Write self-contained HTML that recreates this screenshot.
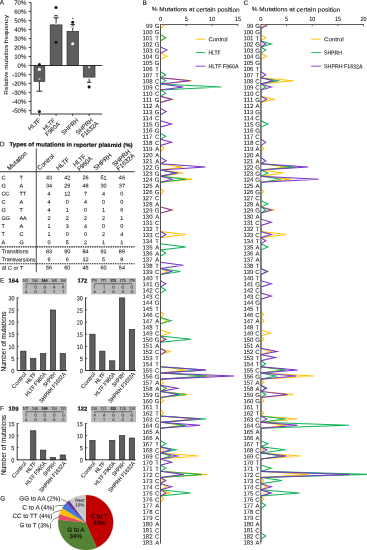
<!DOCTYPE html>
<html lang="en"><head><meta charset="utf-8"><title>Mutation spectra figure</title>
<style>html,body{margin:0;padding:0;background:#fff;}body{width:367px;height:550px;overflow:hidden;}svg{display:block;font-family:"Liberation Sans",sans-serif;}text{fill:#222;stroke:#222;stroke-width:0.09px;}.rl text{fill:#111;stroke:#111;stroke-width:0.04px;}</style>
</head><body>
<svg width="367" height="550" viewBox="0 0 367 550">
<rect width="367" height="550" fill="#fff"/>
<g id="panelA">
<text x="-0.20" y="4.60" font-size="6.4" text-anchor="start" style="fill:#111;stroke:#111;" transform="rotate(0.4 -0.20 4.60)">A</text>
<circle cx="39.40" cy="64.60" r="1.5" fill="#111"/>
<rect x="34.00" y="65.50" width="10.80" height="15.83" fill="#5e5e5e" stroke="#2e2e2e" stroke-width="0.7"/>
<rect x="50.20" y="24.85" width="11.80" height="40.65" fill="#5e5e5e" stroke="#2e2e2e" stroke-width="0.7"/>
<rect x="67.00" y="31.33" width="11.50" height="34.17" fill="#5e5e5e" stroke="#2e2e2e" stroke-width="0.7"/>
<rect x="83.30" y="65.50" width="11.70" height="11.60" fill="#5e5e5e" stroke="#2e2e2e" stroke-width="0.7"/>
<line x1="39.40" y1="81.60" x2="39.40" y2="91.20" stroke="#111" stroke-width="0.9"/>
<line x1="36.40" y1="91.20" x2="42.40" y2="91.20" stroke="#111" stroke-width="0.9"/>
<line x1="56.10" y1="24.22" x2="56.10" y2="17.80" stroke="#111" stroke-width="0.9"/>
<line x1="53.50" y1="17.80" x2="58.70" y2="17.80" stroke="#111" stroke-width="0.9"/>
<line x1="72.70" y1="30.79" x2="72.70" y2="24.60" stroke="#111" stroke-width="0.9"/>
<line x1="70.50" y1="24.60" x2="74.90" y2="24.60" stroke="#111" stroke-width="0.9"/>
<line x1="89.10" y1="77.37" x2="89.10" y2="82.30" stroke="#111" stroke-width="0.9"/>
<line x1="86.90" y1="82.30" x2="91.30" y2="82.30" stroke="#111" stroke-width="0.9"/>
<line x1="31.00" y1="2.30" x2="31.00" y2="114.20" stroke="#222" stroke-width="0.9"/>
<line x1="31.00" y1="65.50" x2="102.30" y2="65.50" stroke="#222" stroke-width="0.9"/>
<line x1="30.60" y1="114.00" x2="102.30" y2="114.00" stroke="#222" stroke-width="0.9"/>
<line x1="28.60" y1="110.47" x2="31.00" y2="110.47" stroke="#222" stroke-width="0.8"/>
<text x="26.40" y="112.81" font-size="6.1" text-anchor="end" transform="rotate(0.4 26.40 112.81)">-50%</text>
<line x1="28.60" y1="101.47" x2="31.00" y2="101.47" stroke="#222" stroke-width="0.8"/>
<text x="26.40" y="103.82" font-size="6.1" text-anchor="end" transform="rotate(0.4 26.40 103.82)">-40%</text>
<line x1="28.60" y1="92.48" x2="31.00" y2="92.48" stroke="#222" stroke-width="0.8"/>
<text x="26.40" y="94.83" font-size="6.1" text-anchor="end" transform="rotate(0.4 26.40 94.83)">-30%</text>
<line x1="28.60" y1="83.49" x2="31.00" y2="83.49" stroke="#222" stroke-width="0.8"/>
<text x="26.40" y="85.84" font-size="6.1" text-anchor="end" transform="rotate(0.4 26.40 85.84)">-20%</text>
<line x1="28.60" y1="74.49" x2="31.00" y2="74.49" stroke="#222" stroke-width="0.8"/>
<text x="26.40" y="76.84" font-size="6.1" text-anchor="end" transform="rotate(0.4 26.40 76.84)">-10%</text>
<line x1="28.60" y1="65.50" x2="31.00" y2="65.50" stroke="#222" stroke-width="0.8"/>
<text x="26.40" y="67.85" font-size="6.1" text-anchor="end" transform="rotate(0.4 26.40 67.85)">0%</text>
<line x1="28.60" y1="56.51" x2="31.00" y2="56.51" stroke="#222" stroke-width="0.8"/>
<text x="26.40" y="58.86" font-size="6.1" text-anchor="end" transform="rotate(0.4 26.40 58.86)">10%</text>
<line x1="28.60" y1="47.51" x2="31.00" y2="47.51" stroke="#222" stroke-width="0.8"/>
<text x="26.40" y="49.86" font-size="6.1" text-anchor="end" transform="rotate(0.4 26.40 49.86)">20%</text>
<line x1="28.60" y1="38.52" x2="31.00" y2="38.52" stroke="#222" stroke-width="0.8"/>
<text x="26.40" y="40.87" font-size="6.1" text-anchor="end" transform="rotate(0.4 26.40 40.87)">30%</text>
<line x1="28.60" y1="29.53" x2="31.00" y2="29.53" stroke="#222" stroke-width="0.8"/>
<text x="26.40" y="31.88" font-size="6.1" text-anchor="end" transform="rotate(0.4 26.40 31.88)">40%</text>
<line x1="28.60" y1="20.54" x2="31.00" y2="20.54" stroke="#222" stroke-width="0.8"/>
<text x="26.40" y="22.89" font-size="6.1" text-anchor="end" transform="rotate(0.4 26.40 22.89)">50%</text>
<line x1="28.60" y1="11.54" x2="31.00" y2="11.54" stroke="#222" stroke-width="0.8"/>
<text x="26.40" y="13.89" font-size="6.1" text-anchor="end" transform="rotate(0.4 26.40 13.89)">60%</text>
<line x1="28.60" y1="2.55" x2="31.00" y2="2.55" stroke="#222" stroke-width="0.8"/>
<text x="26.40" y="4.90" font-size="6.1" text-anchor="end" transform="rotate(0.4 26.40 4.90)">70%</text>
<line x1="39.40" y1="114.00" x2="39.40" y2="116.00" stroke="#222" stroke-width="0.8"/>
<line x1="56.10" y1="114.00" x2="56.10" y2="116.00" stroke="#222" stroke-width="0.8"/>
<line x1="72.70" y1="114.00" x2="72.70" y2="116.00" stroke="#222" stroke-width="0.8"/>
<line x1="89.10" y1="114.00" x2="89.10" y2="116.00" stroke="#222" stroke-width="0.8"/>
<circle cx="39.40" cy="69.40" r="1.55" fill="#fff"/>
<circle cx="39.40" cy="79.00" r="1.1" fill="#b9b9b9"/>
<circle cx="39.40" cy="111.60" r="1.55" fill="#111"/>
<circle cx="56.00" cy="7.50" r="1.55" fill="#111"/>
<circle cx="56.10" cy="23.80" r="1.1" fill="#cfcfcf"/>
<circle cx="60.20" cy="24.60" r="0.9" fill="#9a9a9a"/>
<circle cx="56.00" cy="42.20" r="1.55" fill="#111"/>
<circle cx="72.70" cy="22.30" r="1.5" fill="#111"/>
<circle cx="72.70" cy="27.00" r="1.15" fill="#fff" stroke="#555" stroke-width="0.4"/>
<circle cx="72.70" cy="43.80" r="1.5" fill="#fff"/>
<circle cx="89.10" cy="67.30" r="1.1" fill="#e6e6e6"/>
<circle cx="89.10" cy="78.20" r="1.0" fill="#d8d8d8"/>
<circle cx="89.10" cy="86.90" r="1.55" fill="#111"/>
<text x="56.00" y="17.90" font-size="4.8" text-anchor="middle" transform="rotate(0.4 56.00 17.90)">**</text>
<text x="72.70" y="20.60" font-size="4.2" text-anchor="middle" transform="rotate(0.4 72.70 20.60)">*</text>
<text x="8.40" y="54.90" font-size="6.2" text-anchor="middle" transform="rotate(-90 8.40 54.90)" textLength="79.5" lengthAdjust="spacingAndGlyphs">Relative mutation frequency</text>
<text x="41.00" y="120.90" font-size="6.0" text-anchor="end" transform="rotate(-43 41.00 120.90)">HLTF</text>
<text x="55.60" y="121.10" font-size="6.0" text-anchor="end" transform="rotate(-43 55.60 121.10)">HLTF</text>
<text x="60.40" y="124.50" font-size="6.0" text-anchor="end" transform="rotate(-43 60.40 124.50)">F960A</text>
<text x="79.00" y="120.90" font-size="6.0" text-anchor="end" transform="rotate(-43 79.00 120.90)">SHPRH</text>
<text x="93.40" y="120.70" font-size="6.0" text-anchor="end" transform="rotate(-43 93.40 120.70)">SHPRH</text>
<text x="98.80" y="123.90" font-size="6.0" text-anchor="end" transform="rotate(-43 98.80 123.90)">F1632A</text>
</g>
<g id="panelD">
<text x="-0.20" y="146.20" font-size="6.6" text-anchor="start" style="fill:#111;stroke:#111;" transform="rotate(0.4 -0.20 146.20)">D</text>
<text x="9.60" y="146.20" font-size="5.9" text-anchor="start" font-weight="bold" style="stroke-width:0.2px;fill:#111;stroke:#111;" transform="rotate(0.4 9.60 146.20)" textLength="123" lengthAdjust="spacingAndGlyphs">Types of mutations in reporter plasmid (%)</text>
<line x1="0.00" y1="171.70" x2="134.50" y2="171.70" stroke="#222" stroke-width="0.9"/>
<line x1="36.30" y1="148.50" x2="36.30" y2="272.20" stroke="#222" stroke-width="0.8"/>
<text x="9.60" y="170.40" font-size="6.3" text-anchor="start" transform="rotate(-42 9.60 170.40)">Mutation</text>
<text x="39.60" y="170.40" font-size="6.3" text-anchor="start" transform="rotate(-42 39.60 170.40)">Control</text>
<text x="58.40" y="170.40" font-size="6.3" text-anchor="start" transform="rotate(-42 58.40 170.40)">HLTF</text>
<text x="75.20" y="167.00" font-size="6.2" text-anchor="start" transform="rotate(-42 75.20 167.00)">HLTF</text>
<text x="79.40" y="171.30" font-size="6.2" text-anchor="start" transform="rotate(-42 79.40 171.30)">F960A</text>
<text x="95.80" y="170.60" font-size="6.3" text-anchor="start" transform="rotate(-42 95.80 170.60)">SHPRH</text>
<text x="114.40" y="167.00" font-size="6.3" text-anchor="start" transform="rotate(-42 114.40 167.00)">SHPRH</text>
<text x="118.80" y="171.00" font-size="6.3" text-anchor="start" transform="rotate(-42 118.80 171.00)">F1632A</text>
<text x="1.40" y="179.40" font-size="5.5" text-anchor="start" transform="rotate(0.4 1.40 179.40)">C</text>
<text x="19.40" y="179.40" font-size="5.5" text-anchor="start" transform="rotate(0.4 19.40 179.40)">T</text>
<text x="49.10" y="179.40" font-size="5.5" text-anchor="middle" transform="rotate(0.4 49.10 179.40)">43</text>
<text x="67.30" y="179.40" font-size="5.5" text-anchor="middle" transform="rotate(0.4 67.30 179.40)">42</text>
<text x="85.60" y="179.40" font-size="5.5" text-anchor="middle" transform="rotate(0.4 85.60 179.40)">26</text>
<text x="103.50" y="179.40" font-size="5.5" text-anchor="middle" transform="rotate(0.4 103.50 179.40)">51</text>
<text x="121.90" y="179.40" font-size="5.5" text-anchor="middle" transform="rotate(0.4 121.90 179.40)">46</text>
<text x="1.40" y="187.50" font-size="5.5" text-anchor="start" transform="rotate(0.4 1.40 187.50)">G</text>
<text x="19.40" y="187.50" font-size="5.5" text-anchor="start" transform="rotate(0.4 19.40 187.50)">A</text>
<text x="49.10" y="187.50" font-size="5.5" text-anchor="middle" transform="rotate(0.4 49.10 187.50)">34</text>
<text x="67.30" y="187.50" font-size="5.5" text-anchor="middle" transform="rotate(0.4 67.30 187.50)">29</text>
<text x="85.60" y="187.50" font-size="5.5" text-anchor="middle" transform="rotate(0.4 85.60 187.50)">48</text>
<text x="103.50" y="187.50" font-size="5.5" text-anchor="middle" transform="rotate(0.4 103.50 187.50)">30</text>
<text x="121.90" y="187.50" font-size="5.5" text-anchor="middle" transform="rotate(0.4 121.90 187.50)">37</text>
<text x="1.40" y="195.60" font-size="5.5" text-anchor="start" transform="rotate(0.4 1.40 195.60)">CC</text>
<text x="19.40" y="195.60" font-size="5.5" text-anchor="start" transform="rotate(0.4 19.40 195.60)">TT</text>
<text x="49.10" y="195.60" font-size="5.5" text-anchor="middle" transform="rotate(0.4 49.10 195.60)">4</text>
<text x="67.30" y="195.60" font-size="5.5" text-anchor="middle" transform="rotate(0.4 67.30 195.60)">12</text>
<text x="85.60" y="195.60" font-size="5.5" text-anchor="middle" transform="rotate(0.4 85.60 195.60)">7</text>
<text x="103.50" y="195.60" font-size="5.5" text-anchor="middle" transform="rotate(0.4 103.50 195.60)">4</text>
<text x="121.90" y="195.60" font-size="5.5" text-anchor="middle" transform="rotate(0.4 121.90 195.60)">0</text>
<text x="1.40" y="203.70" font-size="5.5" text-anchor="start" transform="rotate(0.4 1.40 203.70)">C</text>
<text x="19.40" y="203.70" font-size="5.5" text-anchor="start" transform="rotate(0.4 19.40 203.70)">A</text>
<text x="49.10" y="203.70" font-size="5.5" text-anchor="middle" transform="rotate(0.4 49.10 203.70)">4</text>
<text x="67.30" y="203.70" font-size="5.5" text-anchor="middle" transform="rotate(0.4 67.30 203.70)">0</text>
<text x="85.60" y="203.70" font-size="5.5" text-anchor="middle" transform="rotate(0.4 85.60 203.70)">4</text>
<text x="103.50" y="203.70" font-size="5.5" text-anchor="middle" transform="rotate(0.4 103.50 203.70)">0</text>
<text x="121.90" y="203.70" font-size="5.5" text-anchor="middle" transform="rotate(0.4 121.90 203.70)">0</text>
<text x="1.40" y="211.80" font-size="5.5" text-anchor="start" transform="rotate(0.4 1.40 211.80)">G</text>
<text x="19.40" y="211.80" font-size="5.5" text-anchor="start" transform="rotate(0.4 19.40 211.80)">T</text>
<text x="49.10" y="211.80" font-size="5.5" text-anchor="middle" transform="rotate(0.4 49.10 211.80)">4</text>
<text x="67.30" y="211.80" font-size="5.5" text-anchor="middle" transform="rotate(0.4 67.30 211.80)">1</text>
<text x="85.60" y="211.80" font-size="5.5" text-anchor="middle" transform="rotate(0.4 85.60 211.80)">0</text>
<text x="103.50" y="211.80" font-size="5.5" text-anchor="middle" transform="rotate(0.4 103.50 211.80)">1</text>
<text x="121.90" y="211.80" font-size="5.5" text-anchor="middle" transform="rotate(0.4 121.90 211.80)">6</text>
<text x="1.40" y="219.90" font-size="5.5" text-anchor="start" transform="rotate(0.4 1.40 219.90)">GG</text>
<text x="19.40" y="219.90" font-size="5.5" text-anchor="start" transform="rotate(0.4 19.40 219.90)">AA</text>
<text x="49.10" y="219.90" font-size="5.5" text-anchor="middle" transform="rotate(0.4 49.10 219.90)">2</text>
<text x="67.30" y="219.90" font-size="5.5" text-anchor="middle" transform="rotate(0.4 67.30 219.90)">2</text>
<text x="85.60" y="219.90" font-size="5.5" text-anchor="middle" transform="rotate(0.4 85.60 219.90)">2</text>
<text x="103.50" y="219.90" font-size="5.5" text-anchor="middle" transform="rotate(0.4 103.50 219.90)">2</text>
<text x="121.90" y="219.90" font-size="5.5" text-anchor="middle" transform="rotate(0.4 121.90 219.90)">1</text>
<text x="1.40" y="228.00" font-size="5.5" text-anchor="start" transform="rotate(0.4 1.40 228.00)">T</text>
<text x="19.40" y="228.00" font-size="5.5" text-anchor="start" transform="rotate(0.4 19.40 228.00)">A</text>
<text x="49.10" y="228.00" font-size="5.5" text-anchor="middle" transform="rotate(0.4 49.10 228.00)">1</text>
<text x="67.30" y="228.00" font-size="5.5" text-anchor="middle" transform="rotate(0.4 67.30 228.00)">3</text>
<text x="85.60" y="228.00" font-size="5.5" text-anchor="middle" transform="rotate(0.4 85.60 228.00)">4</text>
<text x="103.50" y="228.00" font-size="5.5" text-anchor="middle" transform="rotate(0.4 103.50 228.00)">0</text>
<text x="121.90" y="228.00" font-size="5.5" text-anchor="middle" transform="rotate(0.4 121.90 228.00)">0</text>
<text x="1.40" y="236.10" font-size="5.5" text-anchor="start" transform="rotate(0.4 1.40 236.10)">T</text>
<text x="19.40" y="236.10" font-size="5.5" text-anchor="start" transform="rotate(0.4 19.40 236.10)">C</text>
<text x="49.10" y="236.10" font-size="5.5" text-anchor="middle" transform="rotate(0.4 49.10 236.10)">1</text>
<text x="67.30" y="236.10" font-size="5.5" text-anchor="middle" transform="rotate(0.4 67.30 236.10)">0</text>
<text x="85.60" y="236.10" font-size="5.5" text-anchor="middle" transform="rotate(0.4 85.60 236.10)">0</text>
<text x="103.50" y="236.10" font-size="5.5" text-anchor="middle" transform="rotate(0.4 103.50 236.10)">2</text>
<text x="121.90" y="236.10" font-size="5.5" text-anchor="middle" transform="rotate(0.4 121.90 236.10)">4</text>
<text x="1.40" y="244.20" font-size="5.5" text-anchor="start" transform="rotate(0.4 1.40 244.20)">A</text>
<text x="19.40" y="244.20" font-size="5.5" text-anchor="start" transform="rotate(0.4 19.40 244.20)">G</text>
<text x="49.10" y="244.20" font-size="5.5" text-anchor="middle" transform="rotate(0.4 49.10 244.20)">0</text>
<text x="67.30" y="244.20" font-size="5.5" text-anchor="middle" transform="rotate(0.4 67.30 244.20)">5</text>
<text x="85.60" y="244.20" font-size="5.5" text-anchor="middle" transform="rotate(0.4 85.60 244.20)">2</text>
<text x="103.50" y="244.20" font-size="5.5" text-anchor="middle" transform="rotate(0.4 103.50 244.20)">1</text>
<text x="121.90" y="244.20" font-size="5.5" text-anchor="middle" transform="rotate(0.4 121.90 244.20)">1</text>
<line x1="0.00" y1="246.90" x2="134.50" y2="246.90" stroke="#222" stroke-width="1.1" stroke-dasharray="1.5 0.8"/>
<line x1="0.00" y1="263.80" x2="134.50" y2="263.80" stroke="#222" stroke-width="1.1" stroke-dasharray="1.5 0.8"/>
<text x="1.80" y="253.20" font-size="5.5" text-anchor="start" transform="rotate(0.4 1.80 253.20)">Transitions</text>
<text x="49.10" y="253.20" font-size="5.5" text-anchor="middle" transform="rotate(0.4 49.10 253.20)">83</text>
<text x="67.30" y="253.20" font-size="5.5" text-anchor="middle" transform="rotate(0.4 67.30 253.20)">90</text>
<text x="85.60" y="253.20" font-size="5.5" text-anchor="middle" transform="rotate(0.4 85.60 253.20)">84</text>
<text x="103.50" y="253.20" font-size="5.5" text-anchor="middle" transform="rotate(0.4 103.50 253.20)">91</text>
<text x="121.90" y="253.20" font-size="5.5" text-anchor="middle" transform="rotate(0.4 121.90 253.20)">89</text>
<text x="1.80" y="261.30" font-size="5.5" text-anchor="start" transform="rotate(0.4 1.80 261.30)" textLength="33.6" lengthAdjust="spacingAndGlyphs">Transversions</text>
<text x="49.10" y="261.30" font-size="5.5" text-anchor="middle" transform="rotate(0.4 49.10 261.30)">9</text>
<text x="67.30" y="261.30" font-size="5.5" text-anchor="middle" transform="rotate(0.4 67.30 261.30)">6</text>
<text x="85.60" y="261.30" font-size="5.5" text-anchor="middle" transform="rotate(0.4 85.60 261.30)">12</text>
<text x="103.50" y="261.30" font-size="5.5" text-anchor="middle" transform="rotate(0.4 103.50 261.30)">5</text>
<text x="121.90" y="261.30" font-size="5.5" text-anchor="middle" transform="rotate(0.4 121.90 261.30)">8</text>
<text x="1.80" y="269.60" font-size="5.5" text-anchor="start" transform="rotate(0.4 1.80 269.60)">at C or T</text>
<text x="49.10" y="269.60" font-size="5.5" text-anchor="middle" transform="rotate(0.4 49.10 269.60)">56</text>
<text x="67.30" y="269.60" font-size="5.5" text-anchor="middle" transform="rotate(0.4 67.30 269.60)">60</text>
<text x="85.60" y="269.60" font-size="5.5" text-anchor="middle" transform="rotate(0.4 85.60 269.60)">45</text>
<text x="103.50" y="269.60" font-size="5.5" text-anchor="middle" transform="rotate(0.4 103.50 269.60)">60</text>
<text x="121.90" y="269.60" font-size="5.5" text-anchor="middle" transform="rotate(0.4 121.90 269.60)">54</text>
</g>
<g id="panelEF">
<text x="-0.10" y="282.60" font-size="6.5" text-anchor="start" style="fill:#111;stroke:#111;" transform="rotate(0.4 -0.10 282.60)">E</text>
<text x="8.60" y="282.60" font-size="5.9" text-anchor="start" font-weight="bold" style="stroke-width:0.2px;fill:#111;stroke:#111;" transform="rotate(0.4 8.60 282.60)">164</text>
<rect x="22.50" y="278.00" width="44.30" height="16.30" fill="#bababa"/>
<text x="25.40" y="281.80" font-size="3.5" text-anchor="middle" transform="rotate(0.4 25.40 281.80)">162</text>
<text x="34.90" y="281.80" font-size="3.5" text-anchor="middle" transform="rotate(0.4 34.90 281.80)">163</text>
<text x="44.50" y="281.80" font-size="3.5" text-anchor="middle" font-weight="bold" style="stroke-width:0.2px;" transform="rotate(0.4 44.50 281.80)">164</text>
<text x="54.10" y="281.80" font-size="3.5" text-anchor="middle" transform="rotate(0.4 54.10 281.80)">165</text>
<text x="63.30" y="281.80" font-size="3.5" text-anchor="middle" transform="rotate(0.4 63.30 281.80)">166</text>
<line x1="26.10" y1="283.70" x2="63.30" y2="283.70" stroke="#333" stroke-width="0.6"/>
<line x1="26.10" y1="283.70" x2="26.10" y2="285.00" stroke="#333" stroke-width="0.5"/>
<text x="26.10" y="288.20" font-size="3.6" text-anchor="middle" transform="rotate(0.4 26.10 288.20)">T</text>
<line x1="26.10" y1="288.50" x2="26.10" y2="289.20" stroke="#333" stroke-width="0.4"/>
<text x="26.10" y="293.10" font-size="3.6" text-anchor="middle" transform="rotate(0.4 26.10 293.10)">A</text>
<line x1="35.60" y1="283.70" x2="35.60" y2="285.00" stroke="#333" stroke-width="0.5"/>
<text x="35.60" y="288.20" font-size="3.6" text-anchor="middle" transform="rotate(0.4 35.60 288.20)">C</text>
<line x1="35.60" y1="288.50" x2="35.60" y2="289.20" stroke="#333" stroke-width="0.4"/>
<text x="35.60" y="293.10" font-size="3.6" text-anchor="middle" transform="rotate(0.4 35.60 293.10)">G</text>
<line x1="44.90" y1="283.70" x2="44.90" y2="285.00" stroke="#333" stroke-width="0.5"/>
<text x="44.90" y="288.20" font-size="3.6" text-anchor="middle" transform="rotate(0.4 44.90 288.20)">G</text>
<line x1="44.90" y1="288.50" x2="44.90" y2="289.20" stroke="#333" stroke-width="0.4"/>
<text x="44.90" y="293.10" font-size="3.6" text-anchor="middle" transform="rotate(0.4 44.90 293.10)">C</text>
<line x1="54.20" y1="283.70" x2="54.20" y2="285.00" stroke="#333" stroke-width="0.5"/>
<text x="54.20" y="288.20" font-size="3.6" text-anchor="middle" transform="rotate(0.4 54.20 288.20)">A</text>
<line x1="54.20" y1="288.50" x2="54.20" y2="289.20" stroke="#333" stroke-width="0.4"/>
<text x="54.20" y="293.10" font-size="3.6" text-anchor="middle" transform="rotate(0.4 54.20 293.10)">T</text>
<line x1="63.30" y1="283.70" x2="63.30" y2="285.00" stroke="#333" stroke-width="0.5"/>
<text x="63.30" y="288.20" font-size="3.6" text-anchor="middle" transform="rotate(0.4 63.30 288.20)">A</text>
<line x1="63.30" y1="288.50" x2="63.30" y2="289.20" stroke="#333" stroke-width="0.4"/>
<text x="63.30" y="293.10" font-size="3.6" text-anchor="middle" transform="rotate(0.4 63.30 293.10)">T</text>
<rect x="20.70" y="351.14" width="5.30" height="19.36" fill="#5e5e5e" stroke="#2e2e2e" stroke-width="0.7"/>
<rect x="30.57" y="358.40" width="5.30" height="12.10" fill="#5e5e5e" stroke="#2e2e2e" stroke-width="0.7"/>
<rect x="40.44" y="353.56" width="5.30" height="16.94" fill="#5e5e5e" stroke="#2e2e2e" stroke-width="0.7"/>
<rect x="50.31" y="310.00" width="5.30" height="60.50" fill="#5e5e5e" stroke="#2e2e2e" stroke-width="0.7"/>
<rect x="60.18" y="353.56" width="5.30" height="16.94" fill="#5e5e5e" stroke="#2e2e2e" stroke-width="0.7"/>
<line x1="17.20" y1="297.50" x2="17.20" y2="370.90" stroke="#222" stroke-width="0.9"/>
<line x1="17.20" y1="370.50" x2="66.80" y2="370.50" stroke="#222" stroke-width="0.9"/>
<line x1="17.20" y1="370.50" x2="18.80" y2="370.50" stroke="#222" stroke-width="0.7"/>
<text x="14.40" y="373.20" font-size="6.3" text-anchor="end" transform="rotate(0.4 14.40 373.20)" textLength="3.1" lengthAdjust="spacingAndGlyphs">0</text>
<line x1="17.20" y1="358.40" x2="18.80" y2="358.40" stroke="#222" stroke-width="0.7"/>
<text x="14.40" y="361.10" font-size="6.3" text-anchor="end" transform="rotate(0.4 14.40 361.10)" textLength="3.1" lengthAdjust="spacingAndGlyphs">5</text>
<line x1="17.20" y1="346.30" x2="18.80" y2="346.30" stroke="#222" stroke-width="0.7"/>
<text x="14.40" y="349.00" font-size="6.3" text-anchor="end" transform="rotate(0.4 14.40 349.00)" textLength="6.0" lengthAdjust="spacingAndGlyphs">10</text>
<line x1="17.20" y1="334.20" x2="18.80" y2="334.20" stroke="#222" stroke-width="0.7"/>
<text x="14.40" y="336.90" font-size="6.3" text-anchor="end" transform="rotate(0.4 14.40 336.90)" textLength="6.0" lengthAdjust="spacingAndGlyphs">15</text>
<line x1="17.20" y1="322.10" x2="18.80" y2="322.10" stroke="#222" stroke-width="0.7"/>
<text x="14.40" y="324.80" font-size="6.3" text-anchor="end" transform="rotate(0.4 14.40 324.80)" textLength="6.0" lengthAdjust="spacingAndGlyphs">20</text>
<line x1="17.20" y1="310.00" x2="18.80" y2="310.00" stroke="#222" stroke-width="0.7"/>
<text x="14.40" y="312.70" font-size="6.3" text-anchor="end" transform="rotate(0.4 14.40 312.70)" textLength="6.0" lengthAdjust="spacingAndGlyphs">25</text>
<line x1="17.20" y1="297.90" x2="18.80" y2="297.90" stroke="#222" stroke-width="0.7"/>
<text x="14.40" y="300.60" font-size="6.3" text-anchor="end" transform="rotate(0.4 14.40 300.60)" textLength="6.0" lengthAdjust="spacingAndGlyphs">30</text>
<text x="26.65" y="374.30" font-size="5.6" text-anchor="end" transform="rotate(-50 26.65 374.30)" textLength="19.3" lengthAdjust="spacingAndGlyphs">Control</text>
<text x="36.52" y="374.30" font-size="5.6" text-anchor="end" transform="rotate(-50 36.52 374.30)" textLength="13.0" lengthAdjust="spacingAndGlyphs">HLTF</text>
<text x="46.39" y="374.30" font-size="5.6" text-anchor="end" transform="rotate(-50 46.39 374.30)" textLength="29.2" lengthAdjust="spacingAndGlyphs">HLTF F960A</text>
<text x="56.26" y="374.30" font-size="5.6" text-anchor="end" transform="rotate(-50 56.26 374.30)" textLength="16.8" lengthAdjust="spacingAndGlyphs">SHPRH</text>
<text x="66.13" y="374.30" font-size="5.6" text-anchor="end" transform="rotate(-50 66.13 374.30)" textLength="37.9" lengthAdjust="spacingAndGlyphs">SHPRH F1632A</text>
<text x="77.40" y="282.60" font-size="5.9" text-anchor="start" font-weight="bold" style="stroke-width:0.2px;fill:#111;stroke:#111;" transform="rotate(0.4 77.40 282.60)">172</text>
<rect x="91.10" y="278.00" width="44.90" height="16.30" fill="#bababa"/>
<text x="94.00" y="281.80" font-size="3.5" text-anchor="middle" transform="rotate(0.4 94.00 281.80)">170</text>
<text x="103.50" y="281.80" font-size="3.5" text-anchor="middle" transform="rotate(0.4 103.50 281.80)">171</text>
<text x="113.10" y="281.80" font-size="3.5" text-anchor="middle" font-weight="bold" style="stroke-width:0.2px;" transform="rotate(0.4 113.10 281.80)">172</text>
<text x="122.70" y="281.80" font-size="3.5" text-anchor="middle" transform="rotate(0.4 122.70 281.80)">173</text>
<text x="131.90" y="281.80" font-size="3.5" text-anchor="middle" transform="rotate(0.4 131.90 281.80)">174</text>
<line x1="94.70" y1="283.70" x2="131.90" y2="283.70" stroke="#333" stroke-width="0.6"/>
<line x1="94.70" y1="283.70" x2="94.70" y2="285.00" stroke="#333" stroke-width="0.5"/>
<text x="94.70" y="288.20" font-size="3.6" text-anchor="middle" transform="rotate(0.4 94.70 288.20)">T</text>
<line x1="94.70" y1="288.50" x2="94.70" y2="289.20" stroke="#333" stroke-width="0.4"/>
<text x="94.70" y="293.10" font-size="3.6" text-anchor="middle" transform="rotate(0.4 94.70 293.10)">A</text>
<line x1="104.20" y1="283.70" x2="104.20" y2="285.00" stroke="#333" stroke-width="0.5"/>
<text x="104.20" y="288.20" font-size="3.6" text-anchor="middle" transform="rotate(0.4 104.20 288.20)">T</text>
<line x1="104.20" y1="288.50" x2="104.20" y2="289.20" stroke="#333" stroke-width="0.4"/>
<text x="104.20" y="293.10" font-size="3.6" text-anchor="middle" transform="rotate(0.4 104.20 293.10)">A</text>
<line x1="113.50" y1="283.70" x2="113.50" y2="285.00" stroke="#333" stroke-width="0.5"/>
<text x="113.50" y="288.20" font-size="3.6" text-anchor="middle" transform="rotate(0.4 113.50 288.20)">C</text>
<line x1="113.50" y1="288.50" x2="113.50" y2="289.20" stroke="#333" stroke-width="0.4"/>
<text x="113.50" y="293.10" font-size="3.6" text-anchor="middle" transform="rotate(0.4 113.50 293.10)">G</text>
<line x1="122.80" y1="283.70" x2="122.80" y2="285.00" stroke="#333" stroke-width="0.5"/>
<text x="122.80" y="288.20" font-size="3.6" text-anchor="middle" transform="rotate(0.4 122.80 288.20)">C</text>
<line x1="122.80" y1="288.50" x2="122.80" y2="289.20" stroke="#333" stroke-width="0.4"/>
<text x="122.80" y="293.10" font-size="3.6" text-anchor="middle" transform="rotate(0.4 122.80 293.10)">G</text>
<line x1="131.90" y1="283.70" x2="131.90" y2="285.00" stroke="#333" stroke-width="0.5"/>
<text x="131.90" y="288.20" font-size="3.6" text-anchor="middle" transform="rotate(0.4 131.90 288.20)">C</text>
<line x1="131.90" y1="288.50" x2="131.90" y2="289.20" stroke="#333" stroke-width="0.4"/>
<text x="131.90" y="293.10" font-size="3.6" text-anchor="middle" transform="rotate(0.4 131.90 293.10)">G</text>
<rect x="89.80" y="334.20" width="5.30" height="36.30" fill="#5e5e5e" stroke="#2e2e2e" stroke-width="0.7"/>
<rect x="99.67" y="351.14" width="5.30" height="19.36" fill="#5e5e5e" stroke="#2e2e2e" stroke-width="0.7"/>
<rect x="109.54" y="360.82" width="5.30" height="9.68" fill="#5e5e5e" stroke="#2e2e2e" stroke-width="0.7"/>
<rect x="119.41" y="297.90" width="5.30" height="72.60" fill="#5e5e5e" stroke="#2e2e2e" stroke-width="0.7"/>
<rect x="129.28" y="329.36" width="5.30" height="41.14" fill="#5e5e5e" stroke="#2e2e2e" stroke-width="0.7"/>
<line x1="85.60" y1="297.50" x2="85.60" y2="370.90" stroke="#222" stroke-width="0.9"/>
<line x1="85.60" y1="370.50" x2="135.60" y2="370.50" stroke="#222" stroke-width="0.9"/>
<line x1="85.60" y1="370.50" x2="87.20" y2="370.50" stroke="#222" stroke-width="0.7"/>
<text x="82.80" y="373.20" font-size="6.3" text-anchor="end" transform="rotate(0.4 82.80 373.20)" textLength="3.1" lengthAdjust="spacingAndGlyphs">0</text>
<line x1="85.60" y1="358.40" x2="87.20" y2="358.40" stroke="#222" stroke-width="0.7"/>
<text x="82.80" y="361.10" font-size="6.3" text-anchor="end" transform="rotate(0.4 82.80 361.10)" textLength="3.1" lengthAdjust="spacingAndGlyphs">5</text>
<line x1="85.60" y1="346.30" x2="87.20" y2="346.30" stroke="#222" stroke-width="0.7"/>
<text x="82.80" y="349.00" font-size="6.3" text-anchor="end" transform="rotate(0.4 82.80 349.00)" textLength="6.0" lengthAdjust="spacingAndGlyphs">10</text>
<line x1="85.60" y1="334.20" x2="87.20" y2="334.20" stroke="#222" stroke-width="0.7"/>
<text x="82.80" y="336.90" font-size="6.3" text-anchor="end" transform="rotate(0.4 82.80 336.90)" textLength="6.0" lengthAdjust="spacingAndGlyphs">15</text>
<line x1="85.60" y1="322.10" x2="87.20" y2="322.10" stroke="#222" stroke-width="0.7"/>
<text x="82.80" y="324.80" font-size="6.3" text-anchor="end" transform="rotate(0.4 82.80 324.80)" textLength="6.0" lengthAdjust="spacingAndGlyphs">20</text>
<line x1="85.60" y1="310.00" x2="87.20" y2="310.00" stroke="#222" stroke-width="0.7"/>
<text x="82.80" y="312.70" font-size="6.3" text-anchor="end" transform="rotate(0.4 82.80 312.70)" textLength="6.0" lengthAdjust="spacingAndGlyphs">25</text>
<line x1="85.60" y1="297.90" x2="87.20" y2="297.90" stroke="#222" stroke-width="0.7"/>
<text x="82.80" y="300.60" font-size="6.3" text-anchor="end" transform="rotate(0.4 82.80 300.60)" textLength="6.0" lengthAdjust="spacingAndGlyphs">30</text>
<text x="95.75" y="374.30" font-size="5.6" text-anchor="end" transform="rotate(-50 95.75 374.30)" textLength="19.3" lengthAdjust="spacingAndGlyphs">Control</text>
<text x="105.62" y="374.30" font-size="5.6" text-anchor="end" transform="rotate(-50 105.62 374.30)" textLength="13.0" lengthAdjust="spacingAndGlyphs">HLTF</text>
<text x="115.49" y="374.30" font-size="5.6" text-anchor="end" transform="rotate(-50 115.49 374.30)" textLength="29.2" lengthAdjust="spacingAndGlyphs">HLTF F960A</text>
<text x="125.36" y="374.30" font-size="5.6" text-anchor="end" transform="rotate(-50 125.36 374.30)" textLength="16.8" lengthAdjust="spacingAndGlyphs">SHPRH</text>
<text x="135.23" y="374.30" font-size="5.6" text-anchor="end" transform="rotate(-50 135.23 374.30)" textLength="37.9" lengthAdjust="spacingAndGlyphs">SHPRH F1632A</text>
<text x="6.10" y="341.40" font-size="6.4" text-anchor="middle" transform="rotate(-90 6.10 341.40)" textLength="60.0" lengthAdjust="spacingAndGlyphs">Number of mutations</text>
<text x="-0.10" y="410.60" font-size="6.5" text-anchor="start" style="fill:#111;stroke:#111;" transform="rotate(0.4 -0.10 410.60)">F</text>
<text x="8.60" y="410.60" font-size="5.9" text-anchor="start" font-weight="bold" style="stroke-width:0.2px;fill:#111;stroke:#111;" transform="rotate(0.4 8.60 410.60)">109</text>
<rect x="22.50" y="406.00" width="44.30" height="16.30" fill="#bababa"/>
<text x="25.40" y="409.80" font-size="3.5" text-anchor="middle" transform="rotate(0.4 25.40 409.80)">107</text>
<text x="34.90" y="409.80" font-size="3.5" text-anchor="middle" transform="rotate(0.4 34.90 409.80)">108</text>
<text x="44.50" y="409.80" font-size="3.5" text-anchor="middle" font-weight="bold" style="stroke-width:0.2px;" transform="rotate(0.4 44.50 409.80)">109</text>
<text x="54.10" y="409.80" font-size="3.5" text-anchor="middle" transform="rotate(0.4 54.10 409.80)">110</text>
<text x="63.30" y="409.80" font-size="3.5" text-anchor="middle" transform="rotate(0.4 63.30 409.80)">111</text>
<line x1="26.10" y1="411.70" x2="63.30" y2="411.70" stroke="#333" stroke-width="0.6"/>
<line x1="26.10" y1="411.70" x2="26.10" y2="413.00" stroke="#333" stroke-width="0.5"/>
<text x="26.10" y="416.20" font-size="3.6" text-anchor="middle" transform="rotate(0.4 26.10 416.20)">T</text>
<line x1="26.10" y1="416.50" x2="26.10" y2="417.20" stroke="#333" stroke-width="0.4"/>
<text x="26.10" y="421.10" font-size="3.6" text-anchor="middle" transform="rotate(0.4 26.10 421.10)">A</text>
<line x1="35.60" y1="411.70" x2="35.60" y2="413.00" stroke="#333" stroke-width="0.5"/>
<text x="35.60" y="416.20" font-size="3.6" text-anchor="middle" transform="rotate(0.4 35.60 416.20)">C</text>
<line x1="35.60" y1="416.50" x2="35.60" y2="417.20" stroke="#333" stroke-width="0.4"/>
<text x="35.60" y="421.10" font-size="3.6" text-anchor="middle" transform="rotate(0.4 35.60 421.10)">G</text>
<line x1="44.90" y1="411.70" x2="44.90" y2="413.00" stroke="#333" stroke-width="0.5"/>
<text x="44.90" y="416.20" font-size="3.6" text-anchor="middle" transform="rotate(0.4 44.90 416.20)">C</text>
<line x1="44.90" y1="416.50" x2="44.90" y2="417.20" stroke="#333" stroke-width="0.4"/>
<text x="44.90" y="421.10" font-size="3.6" text-anchor="middle" transform="rotate(0.4 44.90 421.10)">G</text>
<line x1="54.20" y1="411.70" x2="54.20" y2="413.00" stroke="#333" stroke-width="0.5"/>
<text x="54.20" y="416.20" font-size="3.6" text-anchor="middle" transform="rotate(0.4 54.20 416.20)">C</text>
<line x1="54.20" y1="416.50" x2="54.20" y2="417.20" stroke="#333" stroke-width="0.4"/>
<text x="54.20" y="421.10" font-size="3.6" text-anchor="middle" transform="rotate(0.4 54.20 421.10)">G</text>
<line x1="63.30" y1="411.70" x2="63.30" y2="413.00" stroke="#333" stroke-width="0.5"/>
<text x="63.30" y="416.20" font-size="3.6" text-anchor="middle" transform="rotate(0.4 63.30 416.20)">G</text>
<line x1="63.30" y1="416.50" x2="63.30" y2="417.20" stroke="#333" stroke-width="0.4"/>
<text x="63.30" y="421.10" font-size="3.6" text-anchor="middle" transform="rotate(0.4 63.30 421.10)">C</text>
<rect x="30.57" y="430.76" width="5.30" height="29.04" fill="#5e5e5e" stroke="#2e2e2e" stroke-width="0.7"/>
<rect x="40.44" y="450.12" width="5.30" height="9.68" fill="#5e5e5e" stroke="#2e2e2e" stroke-width="0.7"/>
<rect x="50.31" y="457.38" width="5.30" height="2.42" fill="#5e5e5e" stroke="#2e2e2e" stroke-width="0.7"/>
<rect x="60.18" y="454.96" width="5.30" height="4.84" fill="#5e5e5e" stroke="#2e2e2e" stroke-width="0.7"/>
<line x1="17.20" y1="423.10" x2="17.20" y2="460.20" stroke="#222" stroke-width="0.9"/>
<line x1="17.20" y1="459.80" x2="66.80" y2="459.80" stroke="#222" stroke-width="0.9"/>
<line x1="17.20" y1="459.80" x2="18.80" y2="459.80" stroke="#222" stroke-width="0.7"/>
<text x="14.40" y="462.50" font-size="6.3" text-anchor="end" transform="rotate(0.4 14.40 462.50)" textLength="3.1" lengthAdjust="spacingAndGlyphs">0</text>
<line x1="17.20" y1="447.70" x2="18.80" y2="447.70" stroke="#222" stroke-width="0.7"/>
<text x="14.40" y="450.40" font-size="6.3" text-anchor="end" transform="rotate(0.4 14.40 450.40)" textLength="3.1" lengthAdjust="spacingAndGlyphs">5</text>
<line x1="17.20" y1="435.60" x2="18.80" y2="435.60" stroke="#222" stroke-width="0.7"/>
<text x="14.40" y="438.30" font-size="6.3" text-anchor="end" transform="rotate(0.4 14.40 438.30)" textLength="6.0" lengthAdjust="spacingAndGlyphs">10</text>
<line x1="17.20" y1="423.50" x2="18.80" y2="423.50" stroke="#222" stroke-width="0.7"/>
<text x="14.40" y="426.20" font-size="6.3" text-anchor="end" transform="rotate(0.4 14.40 426.20)" textLength="6.0" lengthAdjust="spacingAndGlyphs">15</text>
<text x="26.65" y="463.60" font-size="5.6" text-anchor="end" transform="rotate(-50 26.65 463.60)" textLength="19.3" lengthAdjust="spacingAndGlyphs">Control</text>
<text x="36.52" y="463.60" font-size="5.6" text-anchor="end" transform="rotate(-50 36.52 463.60)" textLength="13.0" lengthAdjust="spacingAndGlyphs">HLTF</text>
<text x="46.39" y="463.60" font-size="5.6" text-anchor="end" transform="rotate(-50 46.39 463.60)" textLength="29.2" lengthAdjust="spacingAndGlyphs">HLTF F960A</text>
<text x="56.26" y="463.60" font-size="5.6" text-anchor="end" transform="rotate(-50 56.26 463.60)" textLength="16.8" lengthAdjust="spacingAndGlyphs">SHPRH</text>
<text x="66.13" y="463.60" font-size="5.6" text-anchor="end" transform="rotate(-50 66.13 463.60)" textLength="37.9" lengthAdjust="spacingAndGlyphs">SHPRH F1632A</text>
<text x="77.40" y="410.60" font-size="5.9" text-anchor="start" font-weight="bold" style="stroke-width:0.2px;fill:#111;stroke:#111;" transform="rotate(0.4 77.40 410.60)">122</text>
<rect x="91.10" y="406.00" width="44.90" height="16.30" fill="#bababa"/>
<text x="94.00" y="409.80" font-size="3.5" text-anchor="middle" transform="rotate(0.4 94.00 409.80)">120</text>
<text x="103.50" y="409.80" font-size="3.5" text-anchor="middle" transform="rotate(0.4 103.50 409.80)">121</text>
<text x="113.10" y="409.80" font-size="3.5" text-anchor="middle" font-weight="bold" style="stroke-width:0.2px;" transform="rotate(0.4 113.10 409.80)">122</text>
<text x="122.70" y="409.80" font-size="3.5" text-anchor="middle" transform="rotate(0.4 122.70 409.80)">123</text>
<text x="131.90" y="409.80" font-size="3.5" text-anchor="middle" transform="rotate(0.4 131.90 409.80)">124</text>
<line x1="94.70" y1="411.70" x2="131.90" y2="411.70" stroke="#333" stroke-width="0.6"/>
<line x1="94.70" y1="411.70" x2="94.70" y2="413.00" stroke="#333" stroke-width="0.5"/>
<text x="94.70" y="416.20" font-size="3.6" text-anchor="middle" transform="rotate(0.4 94.70 416.20)">A</text>
<line x1="94.70" y1="416.50" x2="94.70" y2="417.20" stroke="#333" stroke-width="0.4"/>
<text x="94.70" y="421.10" font-size="3.6" text-anchor="middle" transform="rotate(0.4 94.70 421.10)">T</text>
<line x1="104.20" y1="411.70" x2="104.20" y2="413.00" stroke="#333" stroke-width="0.5"/>
<text x="104.20" y="416.20" font-size="3.6" text-anchor="middle" transform="rotate(0.4 104.20 416.20)">A</text>
<line x1="104.20" y1="416.50" x2="104.20" y2="417.20" stroke="#333" stroke-width="0.4"/>
<text x="104.20" y="421.10" font-size="3.6" text-anchor="middle" transform="rotate(0.4 104.20 421.10)">T</text>
<line x1="113.50" y1="411.70" x2="113.50" y2="413.00" stroke="#333" stroke-width="0.5"/>
<text x="113.50" y="416.20" font-size="3.6" text-anchor="middle" transform="rotate(0.4 113.50 416.20)">G</text>
<line x1="113.50" y1="416.50" x2="113.50" y2="417.20" stroke="#333" stroke-width="0.4"/>
<text x="113.50" y="421.10" font-size="3.6" text-anchor="middle" transform="rotate(0.4 113.50 421.10)">C</text>
<line x1="122.80" y1="411.70" x2="122.80" y2="413.00" stroke="#333" stroke-width="0.5"/>
<text x="122.80" y="416.20" font-size="3.6" text-anchor="middle" transform="rotate(0.4 122.80 416.20)">G</text>
<line x1="122.80" y1="416.50" x2="122.80" y2="417.20" stroke="#333" stroke-width="0.4"/>
<text x="122.80" y="421.10" font-size="3.6" text-anchor="middle" transform="rotate(0.4 122.80 421.10)">C</text>
<line x1="131.90" y1="411.70" x2="131.90" y2="413.00" stroke="#333" stroke-width="0.5"/>
<text x="131.90" y="416.20" font-size="3.6" text-anchor="middle" transform="rotate(0.4 131.90 416.20)">G</text>
<line x1="131.90" y1="416.50" x2="131.90" y2="417.20" stroke="#333" stroke-width="0.4"/>
<text x="131.90" y="421.10" font-size="3.6" text-anchor="middle" transform="rotate(0.4 131.90 421.10)">C</text>
<rect x="89.80" y="440.44" width="5.30" height="19.36" fill="#5e5e5e" stroke="#2e2e2e" stroke-width="0.7"/>
<rect x="109.54" y="440.44" width="5.30" height="19.36" fill="#5e5e5e" stroke="#2e2e2e" stroke-width="0.7"/>
<rect x="119.41" y="435.60" width="5.30" height="24.20" fill="#5e5e5e" stroke="#2e2e2e" stroke-width="0.7"/>
<rect x="129.28" y="438.02" width="5.30" height="21.78" fill="#5e5e5e" stroke="#2e2e2e" stroke-width="0.7"/>
<line x1="85.60" y1="423.10" x2="85.60" y2="460.20" stroke="#222" stroke-width="0.9"/>
<line x1="85.60" y1="459.80" x2="135.60" y2="459.80" stroke="#222" stroke-width="0.9"/>
<line x1="85.60" y1="459.80" x2="87.20" y2="459.80" stroke="#222" stroke-width="0.7"/>
<text x="82.80" y="462.50" font-size="6.3" text-anchor="end" transform="rotate(0.4 82.80 462.50)" textLength="3.1" lengthAdjust="spacingAndGlyphs">0</text>
<line x1="85.60" y1="447.70" x2="87.20" y2="447.70" stroke="#222" stroke-width="0.7"/>
<text x="82.80" y="450.40" font-size="6.3" text-anchor="end" transform="rotate(0.4 82.80 450.40)" textLength="3.1" lengthAdjust="spacingAndGlyphs">5</text>
<line x1="85.60" y1="435.60" x2="87.20" y2="435.60" stroke="#222" stroke-width="0.7"/>
<text x="82.80" y="438.30" font-size="6.3" text-anchor="end" transform="rotate(0.4 82.80 438.30)" textLength="6.0" lengthAdjust="spacingAndGlyphs">10</text>
<line x1="85.60" y1="423.50" x2="87.20" y2="423.50" stroke="#222" stroke-width="0.7"/>
<text x="82.80" y="426.20" font-size="6.3" text-anchor="end" transform="rotate(0.4 82.80 426.20)" textLength="6.0" lengthAdjust="spacingAndGlyphs">15</text>
<text x="95.75" y="463.60" font-size="5.6" text-anchor="end" transform="rotate(-50 95.75 463.60)" textLength="19.3" lengthAdjust="spacingAndGlyphs">Control</text>
<text x="105.62" y="463.60" font-size="5.6" text-anchor="end" transform="rotate(-50 105.62 463.60)" textLength="13.0" lengthAdjust="spacingAndGlyphs">HLTF</text>
<text x="115.49" y="463.60" font-size="5.6" text-anchor="end" transform="rotate(-50 115.49 463.60)" textLength="29.2" lengthAdjust="spacingAndGlyphs">HLTF F960A</text>
<text x="125.36" y="463.60" font-size="5.6" text-anchor="end" transform="rotate(-50 125.36 463.60)" textLength="16.8" lengthAdjust="spacingAndGlyphs">SHPRH</text>
<text x="135.23" y="463.60" font-size="5.6" text-anchor="end" transform="rotate(-50 135.23 463.60)" textLength="37.9" lengthAdjust="spacingAndGlyphs">SHPRH F1632A</text>
<text x="6.10" y="445.00" font-size="6.4" text-anchor="middle" transform="rotate(-90 6.10 445.00)" textLength="60.0" lengthAdjust="spacingAndGlyphs">Number of mutations</text>
</g>
<g id="panelG">
<text x="0.20" y="500.60" font-size="6.4" text-anchor="start" style="fill:#111;stroke:#111;" transform="rotate(0.4 0.20 500.60)">G</text>
<path d="M85.70,522.50 L85.70,495.00 A27.5,27.5 0 0 1 96.80,547.66 Z" fill="#c00000" stroke="#c00000" stroke-width="0.3"/>
<path d="M85.70,522.50 L96.80,547.66 A27.5,27.5 0 0 1 58.34,519.72 Z" fill="#548235" stroke="#548235" stroke-width="0.3"/>
<path d="M85.70,522.50 L58.34,519.72 A27.5,27.5 0 0 1 59.58,513.91 Z" fill="#e84a6a" stroke="#e84a6a" stroke-width="0.3"/>
<path d="M85.70,522.50 L59.58,513.91 A27.5,27.5 0 0 1 62.28,508.09 Z" fill="#ffc000" stroke="#ffc000" stroke-width="0.3"/>
<path d="M85.70,522.50 L62.28,508.09 A27.5,27.5 0 0 1 66.42,502.89 Z" fill="#3f7be0" stroke="#3f7be0" stroke-width="0.3"/>
<path d="M85.70,522.50 L66.42,502.89 A27.5,27.5 0 0 1 69.34,500.39 Z" fill="#7030a0" stroke="#7030a0" stroke-width="0.3"/>
<path d="M85.70,522.50 L69.34,500.39 A27.5,27.5 0 0 1 85.70,495.00 Z" fill="#c9c9c9" stroke="#c9c9c9" stroke-width="0.3"/>
<text x="99.20" y="518.40" font-size="6.2" text-anchor="middle" style="fill:#000;stroke:#000;" transform="rotate(0.4 99.20 518.40)">C to T</text>
<text x="99.20" y="524.90" font-size="6.2" text-anchor="middle" style="fill:#000;stroke:#000;" transform="rotate(0.4 99.20 524.90)">43%</text>
<text x="75.80" y="531.80" font-size="6.2" text-anchor="middle" style="fill:#000;stroke:#000;" transform="rotate(0.4 75.80 531.80)">G to A</text>
<text x="75.80" y="538.20" font-size="6.2" text-anchor="middle" style="fill:#000;stroke:#000;" transform="rotate(0.4 75.80 538.20)">34%</text>
<text x="79.80" y="502.00" font-size="4.5" text-anchor="middle" style="fill:#3a3a3a;stroke:#3a3a3a;" transform="rotate(0.4 79.80 502.00)">Rest</text>
<text x="79.80" y="506.60" font-size="4.5" text-anchor="middle" style="fill:#3a3a3a;stroke:#3a3a3a;" transform="rotate(0.4 79.80 506.60)">10%</text>
<text x="60.30" y="500.80" font-size="6.3" text-anchor="end" transform="rotate(0.4 60.30 500.80)" textLength="41" lengthAdjust="spacingAndGlyphs">GG to AA (2%)</text>
<text x="54.50" y="509.70" font-size="6.3" text-anchor="end" transform="rotate(0.4 54.50 509.70)" textLength="32.2" lengthAdjust="spacingAndGlyphs">C to A (4%)</text>
<text x="52.30" y="518.20" font-size="6.3" text-anchor="end" transform="rotate(0.4 52.30 518.20)" textLength="39.8" lengthAdjust="spacingAndGlyphs">CC to TT (4%)</text>
<text x="51.20" y="527.50" font-size="6.3" text-anchor="end" transform="rotate(0.4 51.20 527.50)" textLength="31.8" lengthAdjust="spacingAndGlyphs">G to T (3%)</text>
<polyline points="60.6,498.9 68.0,502.3" fill="none" stroke="#444" stroke-width="0.6"/>
<polyline points="54.9,506.5 57.6,505.6 66.4,505.3" fill="none" stroke="#444" stroke-width="0.6"/>
<polyline points="52.4,514.0 53.9,512.4 61.5,510.2" fill="none" stroke="#444" stroke-width="0.6"/>
<polyline points="51.3,522.2 53.3,519.5 59.6,516.2" fill="none" stroke="#444" stroke-width="0.6"/>
</g>
<g id="panelB">
<text x="142.40" y="5.00" font-size="6.5" text-anchor="start" style="fill:#111;stroke:#111;" transform="rotate(0.4 142.40 5.00)">B</text>
<text x="151.80" y="11.10" font-size="6.0" text-anchor="start" style="fill:#111;stroke:#111;" transform="rotate(0.4 151.80 11.10)" textLength="87.9" lengthAdjust="spacingAndGlyphs">% Mutations at certain position</text>
<text x="160.50" y="21.00" font-size="6.2" text-anchor="middle" style="fill:#111;stroke:#111;" transform="rotate(0.4 160.50 21.00)" textLength="3.1" lengthAdjust="spacingAndGlyphs">0</text>
<line x1="186.30" y1="24.50" x2="186.30" y2="26.30" stroke="#333" stroke-width="0.7"/>
<text x="186.30" y="21.00" font-size="6.2" text-anchor="middle" style="fill:#111;stroke:#111;" transform="rotate(0.4 186.30 21.00)" textLength="3.1" lengthAdjust="spacingAndGlyphs">5</text>
<line x1="212.10" y1="24.50" x2="212.10" y2="26.30" stroke="#333" stroke-width="0.7"/>
<text x="212.10" y="21.00" font-size="6.2" text-anchor="middle" style="fill:#111;stroke:#111;" transform="rotate(0.4 212.10 21.00)" textLength="6.0" lengthAdjust="spacingAndGlyphs">10</text>
<line x1="237.90" y1="24.50" x2="237.90" y2="26.30" stroke="#333" stroke-width="0.7"/>
<text x="237.90" y="21.00" font-size="6.2" text-anchor="middle" style="fill:#111;stroke:#111;" transform="rotate(0.4 237.90 21.00)" textLength="6.0" lengthAdjust="spacingAndGlyphs">15</text>
<line x1="160.50" y1="24.50" x2="238.25" y2="24.50" stroke="#333" stroke-width="0.8"/>
<g font-size="6" class="rl">
<text transform="rotate(0.4 155.5 28.10)"><tspan x="152.5" y="28.10" text-anchor="end" textLength="6.7" lengthAdjust="spacingAndGlyphs">99</tspan><tspan x="157.2" y="28.10" text-anchor="middle">G</tspan></text>
<text transform="rotate(0.4 155.5 34.25)"><tspan x="152.5" y="34.25" text-anchor="end" textLength="10.0" lengthAdjust="spacingAndGlyphs">100</tspan><tspan x="157.2" y="34.25" text-anchor="middle">G</tspan></text>
<text transform="rotate(0.4 155.5 40.40)"><tspan x="152.5" y="40.40" text-anchor="end" textLength="10.0" lengthAdjust="spacingAndGlyphs">101</tspan><tspan x="157.2" y="40.40" text-anchor="middle">T</tspan></text>
<text transform="rotate(0.4 155.5 46.55)"><tspan x="152.5" y="46.55" text-anchor="end" textLength="10.0" lengthAdjust="spacingAndGlyphs">102</tspan><tspan x="157.2" y="46.55" text-anchor="middle">G</tspan></text>
<text transform="rotate(0.4 155.5 52.70)"><tspan x="152.5" y="52.70" text-anchor="end" textLength="10.0" lengthAdjust="spacingAndGlyphs">103</tspan><tspan x="157.2" y="52.70" text-anchor="middle">G</tspan></text>
<text transform="rotate(0.4 155.5 58.85)"><tspan x="152.5" y="58.85" text-anchor="end" textLength="10.0" lengthAdjust="spacingAndGlyphs">104</tspan><tspan x="157.2" y="58.85" text-anchor="middle">G</tspan></text>
<text transform="rotate(0.4 155.5 65.00)"><tspan x="152.5" y="65.00" text-anchor="end" textLength="10.0" lengthAdjust="spacingAndGlyphs">105</tspan><tspan x="157.2" y="65.00" text-anchor="middle">G</tspan></text>
<text transform="rotate(0.4 155.5 71.15)"><tspan x="152.5" y="71.15" text-anchor="end" textLength="10.0" lengthAdjust="spacingAndGlyphs">106</tspan><tspan x="157.2" y="71.15" text-anchor="middle">T</tspan></text>
<text transform="rotate(0.4 155.5 77.30)"><tspan x="152.5" y="77.30" text-anchor="end" textLength="10.0" lengthAdjust="spacingAndGlyphs">107</tspan><tspan x="157.2" y="77.30" text-anchor="middle">T</tspan></text>
<text transform="rotate(0.4 155.5 83.45)"><tspan x="152.5" y="83.45" text-anchor="end" textLength="10.0" lengthAdjust="spacingAndGlyphs">108</tspan><tspan x="157.2" y="83.45" text-anchor="middle">C</tspan></text>
<text transform="rotate(0.4 155.5 89.60)"><tspan x="152.5" y="89.60" text-anchor="end" textLength="10.0" lengthAdjust="spacingAndGlyphs">109</tspan><tspan x="157.2" y="89.60" text-anchor="middle">C</tspan></text>
<text transform="rotate(0.4 155.5 95.75)"><tspan x="152.5" y="95.75" text-anchor="end" textLength="10.0" lengthAdjust="spacingAndGlyphs">110</tspan><tspan x="157.2" y="95.75" text-anchor="middle">C</tspan></text>
<text transform="rotate(0.4 155.5 101.90)"><tspan x="152.5" y="101.90" text-anchor="end" textLength="10.0" lengthAdjust="spacingAndGlyphs">111</tspan><tspan x="157.2" y="101.90" text-anchor="middle">G</tspan></text>
<text transform="rotate(0.4 155.5 108.05)"><tspan x="152.5" y="108.05" text-anchor="end" textLength="10.0" lengthAdjust="spacingAndGlyphs">112</tspan><tspan x="157.2" y="108.05" text-anchor="middle">A</tspan></text>
<text transform="rotate(0.4 155.5 114.20)"><tspan x="152.5" y="114.20" text-anchor="end" textLength="10.0" lengthAdjust="spacingAndGlyphs">113</tspan><tspan x="157.2" y="114.20" text-anchor="middle">G</tspan></text>
<text transform="rotate(0.4 155.5 120.35)"><tspan x="152.5" y="120.35" text-anchor="end" textLength="10.0" lengthAdjust="spacingAndGlyphs">114</tspan><tspan x="157.2" y="120.35" text-anchor="middle">C</tspan></text>
<text transform="rotate(0.4 155.5 126.50)"><tspan x="152.5" y="126.50" text-anchor="end" textLength="10.0" lengthAdjust="spacingAndGlyphs">115</tspan><tspan x="157.2" y="126.50" text-anchor="middle">G</tspan></text>
<text transform="rotate(0.4 155.5 132.65)"><tspan x="152.5" y="132.65" text-anchor="end" textLength="10.0" lengthAdjust="spacingAndGlyphs">116</tspan><tspan x="157.2" y="132.65" text-anchor="middle">G</tspan></text>
<text transform="rotate(0.4 155.5 138.80)"><tspan x="152.5" y="138.80" text-anchor="end" textLength="10.0" lengthAdjust="spacingAndGlyphs">117</tspan><tspan x="157.2" y="138.80" text-anchor="middle">C</tspan></text>
<text transform="rotate(0.4 155.5 144.95)"><tspan x="152.5" y="144.95" text-anchor="end" textLength="10.0" lengthAdjust="spacingAndGlyphs">118</tspan><tspan x="157.2" y="144.95" text-anchor="middle">C</tspan></text>
<text transform="rotate(0.4 155.5 151.10)"><tspan x="152.5" y="151.10" text-anchor="end" textLength="10.0" lengthAdjust="spacingAndGlyphs">119</tspan><tspan x="157.2" y="151.10" text-anchor="middle">A</tspan></text>
<text transform="rotate(0.4 155.5 157.25)"><tspan x="152.5" y="157.25" text-anchor="end" textLength="10.0" lengthAdjust="spacingAndGlyphs">120</tspan><tspan x="157.2" y="157.25" text-anchor="middle">A</tspan></text>
<text transform="rotate(0.4 155.5 163.40)"><tspan x="152.5" y="163.40" text-anchor="end" textLength="10.0" lengthAdjust="spacingAndGlyphs">121</tspan><tspan x="157.2" y="163.40" text-anchor="middle">A</tspan></text>
<text transform="rotate(0.4 155.5 169.55)"><tspan x="152.5" y="169.55" text-anchor="end" textLength="10.0" lengthAdjust="spacingAndGlyphs">122</tspan><tspan x="157.2" y="169.55" text-anchor="middle">G</tspan></text>
<text transform="rotate(0.4 155.5 175.70)"><tspan x="152.5" y="175.70" text-anchor="end" textLength="10.0" lengthAdjust="spacingAndGlyphs">123</tspan><tspan x="157.2" y="175.70" text-anchor="middle">G</tspan></text>
<text transform="rotate(0.4 155.5 181.85)"><tspan x="152.5" y="181.85" text-anchor="end" textLength="10.0" lengthAdjust="spacingAndGlyphs">124</tspan><tspan x="157.2" y="181.85" text-anchor="middle">G</tspan></text>
<text transform="rotate(0.4 155.5 188.00)"><tspan x="152.5" y="188.00" text-anchor="end" textLength="10.0" lengthAdjust="spacingAndGlyphs">125</tspan><tspan x="157.2" y="188.00" text-anchor="middle">A</tspan></text>
<text transform="rotate(0.4 155.5 194.15)"><tspan x="152.5" y="194.15" text-anchor="end" textLength="10.0" lengthAdjust="spacingAndGlyphs">126</tspan><tspan x="157.2" y="194.15" text-anchor="middle">G</tspan></text>
<text transform="rotate(0.4 155.5 200.30)"><tspan x="152.5" y="200.30" text-anchor="end" textLength="10.0" lengthAdjust="spacingAndGlyphs">127</tspan><tspan x="157.2" y="200.30" text-anchor="middle">C</tspan></text>
<text transform="rotate(0.4 155.5 206.45)"><tspan x="152.5" y="206.45" text-anchor="end" textLength="10.0" lengthAdjust="spacingAndGlyphs">128</tspan><tspan x="157.2" y="206.45" text-anchor="middle">A</tspan></text>
<text transform="rotate(0.4 155.5 212.60)"><tspan x="152.5" y="212.60" text-anchor="end" textLength="10.0" lengthAdjust="spacingAndGlyphs">129</tspan><tspan x="157.2" y="212.60" text-anchor="middle">G</tspan></text>
<text transform="rotate(0.4 155.5 218.75)"><tspan x="152.5" y="218.75" text-anchor="end" textLength="10.0" lengthAdjust="spacingAndGlyphs">130</tspan><tspan x="157.2" y="218.75" text-anchor="middle">A</tspan></text>
<text transform="rotate(0.4 155.5 224.90)"><tspan x="152.5" y="224.90" text-anchor="end" textLength="10.0" lengthAdjust="spacingAndGlyphs">131</tspan><tspan x="157.2" y="224.90" text-anchor="middle">C</tspan></text>
<text transform="rotate(0.4 155.5 231.05)"><tspan x="152.5" y="231.05" text-anchor="end" textLength="10.0" lengthAdjust="spacingAndGlyphs">132</tspan><tspan x="157.2" y="231.05" text-anchor="middle">T</tspan></text>
<text transform="rotate(0.4 155.5 237.20)"><tspan x="152.5" y="237.20" text-anchor="end" textLength="10.0" lengthAdjust="spacingAndGlyphs">133</tspan><tspan x="157.2" y="237.20" text-anchor="middle">C</tspan></text>
<text transform="rotate(0.4 155.5 243.35)"><tspan x="152.5" y="243.35" text-anchor="end" textLength="10.0" lengthAdjust="spacingAndGlyphs">134</tspan><tspan x="157.2" y="243.35" text-anchor="middle">T</tspan></text>
<text transform="rotate(0.4 155.5 249.50)"><tspan x="152.5" y="249.50" text-anchor="end" textLength="10.0" lengthAdjust="spacingAndGlyphs">135</tspan><tspan x="157.2" y="249.50" text-anchor="middle">A</tspan></text>
<text transform="rotate(0.4 155.5 255.65)"><tspan x="152.5" y="255.65" text-anchor="end" textLength="10.0" lengthAdjust="spacingAndGlyphs">136</tspan><tspan x="157.2" y="255.65" text-anchor="middle">A</tspan></text>
<text transform="rotate(0.4 155.5 261.80)"><tspan x="152.5" y="261.80" text-anchor="end" textLength="10.0" lengthAdjust="spacingAndGlyphs">137</tspan><tspan x="157.2" y="261.80" text-anchor="middle">A</tspan></text>
<text transform="rotate(0.4 155.5 267.95)"><tspan x="152.5" y="267.95" text-anchor="end" textLength="10.0" lengthAdjust="spacingAndGlyphs">138</tspan><tspan x="157.2" y="267.95" text-anchor="middle">T</tspan></text>
<text transform="rotate(0.4 155.5 274.10)"><tspan x="152.5" y="274.10" text-anchor="end" textLength="10.0" lengthAdjust="spacingAndGlyphs">139</tspan><tspan x="157.2" y="274.10" text-anchor="middle">C</tspan></text>
<text transform="rotate(0.4 155.5 280.25)"><tspan x="152.5" y="280.25" text-anchor="end" textLength="10.0" lengthAdjust="spacingAndGlyphs">140</tspan><tspan x="157.2" y="280.25" text-anchor="middle">T</tspan></text>
<text transform="rotate(0.4 155.5 286.40)"><tspan x="152.5" y="286.40" text-anchor="end" textLength="10.0" lengthAdjust="spacingAndGlyphs">141</tspan><tspan x="157.2" y="286.40" text-anchor="middle">G</tspan></text>
<text transform="rotate(0.4 155.5 292.55)"><tspan x="152.5" y="292.55" text-anchor="end" textLength="10.0" lengthAdjust="spacingAndGlyphs">142</tspan><tspan x="157.2" y="292.55" text-anchor="middle">C</tspan></text>
<text transform="rotate(0.4 155.5 298.70)"><tspan x="152.5" y="298.70" text-anchor="end" textLength="10.0" lengthAdjust="spacingAndGlyphs">143</tspan><tspan x="157.2" y="298.70" text-anchor="middle">C</tspan></text>
<text transform="rotate(0.4 155.5 304.85)"><tspan x="152.5" y="304.85" text-anchor="end" textLength="10.0" lengthAdjust="spacingAndGlyphs">144</tspan><tspan x="157.2" y="304.85" text-anchor="middle">G</tspan></text>
<text transform="rotate(0.4 155.5 311.00)"><tspan x="152.5" y="311.00" text-anchor="end" textLength="10.0" lengthAdjust="spacingAndGlyphs">145</tspan><tspan x="157.2" y="311.00" text-anchor="middle">T</tspan></text>
<text transform="rotate(0.4 155.5 317.15)"><tspan x="152.5" y="317.15" text-anchor="end" textLength="10.0" lengthAdjust="spacingAndGlyphs">146</tspan><tspan x="157.2" y="317.15" text-anchor="middle">C</tspan></text>
<text transform="rotate(0.4 155.5 323.30)"><tspan x="152.5" y="323.30" text-anchor="end" textLength="10.0" lengthAdjust="spacingAndGlyphs">147</tspan><tspan x="157.2" y="323.30" text-anchor="middle">A</tspan></text>
<text transform="rotate(0.4 155.5 329.45)"><tspan x="152.5" y="329.45" text-anchor="end" textLength="10.0" lengthAdjust="spacingAndGlyphs">148</tspan><tspan x="157.2" y="329.45" text-anchor="middle">T</tspan></text>
<text transform="rotate(0.4 155.5 335.60)"><tspan x="152.5" y="335.60" text-anchor="end" textLength="10.0" lengthAdjust="spacingAndGlyphs">149</tspan><tspan x="157.2" y="335.60" text-anchor="middle">C</tspan></text>
<text transform="rotate(0.4 155.5 341.75)"><tspan x="152.5" y="341.75" text-anchor="end" textLength="10.0" lengthAdjust="spacingAndGlyphs">150</tspan><tspan x="157.2" y="341.75" text-anchor="middle">G</tspan></text>
<text transform="rotate(0.4 155.5 347.90)"><tspan x="152.5" y="347.90" text-anchor="end" textLength="10.0" lengthAdjust="spacingAndGlyphs">151</tspan><tspan x="157.2" y="347.90" text-anchor="middle">A</tspan></text>
<text transform="rotate(0.4 155.5 354.05)"><tspan x="152.5" y="354.05" text-anchor="end" textLength="10.0" lengthAdjust="spacingAndGlyphs">152</tspan><tspan x="157.2" y="354.05" text-anchor="middle">C</tspan></text>
<text transform="rotate(0.4 155.5 360.20)"><tspan x="152.5" y="360.20" text-anchor="end" textLength="10.0" lengthAdjust="spacingAndGlyphs">153</tspan><tspan x="157.2" y="360.20" text-anchor="middle">T</tspan></text>
<text transform="rotate(0.4 155.5 366.35)"><tspan x="152.5" y="366.35" text-anchor="end" textLength="10.0" lengthAdjust="spacingAndGlyphs">154</tspan><tspan x="157.2" y="366.35" text-anchor="middle">T</tspan></text>
<text transform="rotate(0.4 155.5 372.50)"><tspan x="152.5" y="372.50" text-anchor="end" textLength="10.0" lengthAdjust="spacingAndGlyphs">155</tspan><tspan x="157.2" y="372.50" text-anchor="middle">C</tspan></text>
<text transform="rotate(0.4 155.5 378.65)"><tspan x="152.5" y="378.65" text-anchor="end" textLength="10.0" lengthAdjust="spacingAndGlyphs">156</tspan><tspan x="157.2" y="378.65" text-anchor="middle">G</tspan></text>
<text transform="rotate(0.4 155.5 384.80)"><tspan x="152.5" y="384.80" text-anchor="end" textLength="10.0" lengthAdjust="spacingAndGlyphs">157</tspan><tspan x="157.2" y="384.80" text-anchor="middle">A</tspan></text>
<text transform="rotate(0.4 155.5 390.95)"><tspan x="152.5" y="390.95" text-anchor="end" textLength="10.0" lengthAdjust="spacingAndGlyphs">158</tspan><tspan x="157.2" y="390.95" text-anchor="middle">A</tspan></text>
<text transform="rotate(0.4 155.5 397.10)"><tspan x="152.5" y="397.10" text-anchor="end" textLength="10.0" lengthAdjust="spacingAndGlyphs">159</tspan><tspan x="157.2" y="397.10" text-anchor="middle">G</tspan></text>
<text transform="rotate(0.4 155.5 403.25)"><tspan x="152.5" y="403.25" text-anchor="end" textLength="10.0" lengthAdjust="spacingAndGlyphs">160</tspan><tspan x="157.2" y="403.25" text-anchor="middle">G</tspan></text>
<text transform="rotate(0.4 155.5 409.40)"><tspan x="152.5" y="409.40" text-anchor="end" textLength="10.0" lengthAdjust="spacingAndGlyphs">161</tspan><tspan x="157.2" y="409.40" text-anchor="middle">T</tspan></text>
<text transform="rotate(0.4 155.5 415.55)"><tspan x="152.5" y="415.55" text-anchor="end" textLength="10.0" lengthAdjust="spacingAndGlyphs">162</tspan><tspan x="157.2" y="415.55" text-anchor="middle">T</tspan></text>
<text transform="rotate(0.4 155.5 421.70)"><tspan x="152.5" y="421.70" text-anchor="end" textLength="10.0" lengthAdjust="spacingAndGlyphs">163</tspan><tspan x="157.2" y="421.70" text-anchor="middle">C</tspan></text>
<text transform="rotate(0.4 155.5 427.85)"><tspan x="152.5" y="427.85" text-anchor="end" textLength="10.0" lengthAdjust="spacingAndGlyphs">164</tspan><tspan x="157.2" y="427.85" text-anchor="middle">G</tspan></text>
<text transform="rotate(0.4 155.5 434.00)"><tspan x="152.5" y="434.00" text-anchor="end" textLength="10.0" lengthAdjust="spacingAndGlyphs">165</tspan><tspan x="157.2" y="434.00" text-anchor="middle">A</tspan></text>
<text transform="rotate(0.4 155.5 440.15)"><tspan x="152.5" y="440.15" text-anchor="end" textLength="10.0" lengthAdjust="spacingAndGlyphs">166</tspan><tspan x="157.2" y="440.15" text-anchor="middle">A</tspan></text>
<text transform="rotate(0.4 155.5 446.30)"><tspan x="152.5" y="446.30" text-anchor="end" textLength="10.0" lengthAdjust="spacingAndGlyphs">167</tspan><tspan x="157.2" y="446.30" text-anchor="middle">T</tspan></text>
<text transform="rotate(0.4 155.5 452.45)"><tspan x="152.5" y="452.45" text-anchor="end" textLength="10.0" lengthAdjust="spacingAndGlyphs">168</tspan><tspan x="157.2" y="452.45" text-anchor="middle">C</tspan></text>
<text transform="rotate(0.4 155.5 458.60)"><tspan x="152.5" y="458.60" text-anchor="end" textLength="10.0" lengthAdjust="spacingAndGlyphs">169</tspan><tspan x="157.2" y="458.60" text-anchor="middle">C</tspan></text>
<text transform="rotate(0.4 155.5 464.75)"><tspan x="152.5" y="464.75" text-anchor="end" textLength="10.0" lengthAdjust="spacingAndGlyphs">170</tspan><tspan x="157.2" y="464.75" text-anchor="middle">T</tspan></text>
<text transform="rotate(0.4 155.5 470.90)"><tspan x="152.5" y="470.90" text-anchor="end" textLength="10.0" lengthAdjust="spacingAndGlyphs">171</tspan><tspan x="157.2" y="470.90" text-anchor="middle">T</tspan></text>
<text transform="rotate(0.4 155.5 477.05)"><tspan x="152.5" y="477.05" text-anchor="end" textLength="10.0" lengthAdjust="spacingAndGlyphs">172</tspan><tspan x="157.2" y="477.05" text-anchor="middle">C</tspan></text>
<text transform="rotate(0.4 155.5 483.20)"><tspan x="152.5" y="483.20" text-anchor="end" textLength="10.0" lengthAdjust="spacingAndGlyphs">173</tspan><tspan x="157.2" y="483.20" text-anchor="middle">C</tspan></text>
<text transform="rotate(0.4 155.5 489.35)"><tspan x="152.5" y="489.35" text-anchor="end" textLength="10.0" lengthAdjust="spacingAndGlyphs">174</tspan><tspan x="157.2" y="489.35" text-anchor="middle">C</tspan></text>
<text transform="rotate(0.4 155.5 495.50)"><tspan x="152.5" y="495.50" text-anchor="end" textLength="10.0" lengthAdjust="spacingAndGlyphs">175</tspan><tspan x="157.2" y="495.50" text-anchor="middle">C</tspan></text>
<text transform="rotate(0.4 155.5 501.65)"><tspan x="152.5" y="501.65" text-anchor="end" textLength="10.0" lengthAdjust="spacingAndGlyphs">176</tspan><tspan x="157.2" y="501.65" text-anchor="middle">C</tspan></text>
<text transform="rotate(0.4 155.5 507.80)"><tspan x="152.5" y="507.80" text-anchor="end" textLength="10.0" lengthAdjust="spacingAndGlyphs">177</tspan><tspan x="157.2" y="507.80" text-anchor="middle">A</tspan></text>
<text transform="rotate(0.4 155.5 513.95)"><tspan x="152.5" y="513.95" text-anchor="end" textLength="10.0" lengthAdjust="spacingAndGlyphs">178</tspan><tspan x="157.2" y="513.95" text-anchor="middle">C</tspan></text>
<text transform="rotate(0.4 155.5 520.10)"><tspan x="152.5" y="520.10" text-anchor="end" textLength="10.0" lengthAdjust="spacingAndGlyphs">179</tspan><tspan x="157.2" y="520.10" text-anchor="middle">C</tspan></text>
<text transform="rotate(0.4 155.5 526.25)"><tspan x="152.5" y="526.25" text-anchor="end" textLength="10.0" lengthAdjust="spacingAndGlyphs">180</tspan><tspan x="157.2" y="526.25" text-anchor="middle">A</tspan></text>
<text transform="rotate(0.4 155.5 532.40)"><tspan x="152.5" y="532.40" text-anchor="end" textLength="10.0" lengthAdjust="spacingAndGlyphs">181</tspan><tspan x="157.2" y="532.40" text-anchor="middle">C</tspan></text>
<text transform="rotate(0.4 155.5 538.55)"><tspan x="152.5" y="538.55" text-anchor="end" textLength="10.0" lengthAdjust="spacingAndGlyphs">182</tspan><tspan x="157.2" y="538.55" text-anchor="middle">C</tspan></text>
<text transform="rotate(0.4 155.5 544.70)"><tspan x="152.5" y="544.70" text-anchor="end" textLength="10.0" lengthAdjust="spacingAndGlyphs">183</tspan><tspan x="157.2" y="544.70" text-anchor="middle">A</tspan></text>
</g>
<clipPath id="clipB"><rect x="160.5" y="24.5" width="220" height="530"/></clipPath>
<g clip-path="url(#clipB)">
<polyline points="163.8,24.50 164.2,25.50 160.5,28.57 160.5,31.65 160.5,34.73 165.8,37.80 160.5,40.88 160.5,43.95 160.5,47.03 160.5,50.10 160.5,53.17 166.9,56.25 160.5,59.33 160.5,62.40 160.5,65.47 160.5,68.55 160.5,71.62 160.5,74.70 160.5,77.78 192.3,80.85 160.5,83.93 160.5,87.00 160.5,90.08 160.5,93.15 160.5,96.23 172.7,99.30 160.5,102.38 160.5,105.45 160.5,108.53 160.5,111.60 160.5,114.68 160.5,117.75 160.5,120.83 160.5,123.90 160.5,126.98 160.5,130.05 160.5,133.12 160.5,136.20 160.5,139.28 160.5,142.35 160.5,145.43 163.7,148.50 160.5,151.57 160.5,154.65 160.5,157.72 160.5,160.80 160.5,163.88 182.8,166.95 160.5,170.03 183.3,173.10 160.5,176.18 192.3,179.25 160.5,182.33 160.5,185.40 160.5,188.48 163.7,191.55 160.5,194.62 160.5,197.70 160.5,200.78 160.5,203.85 160.5,206.93 172.7,210.00 160.5,213.08 160.5,216.15 160.5,219.23 160.5,222.30 160.5,225.38 160.5,228.45 160.5,231.53 185.9,234.60 160.5,237.68 160.5,240.75 160.5,243.83 160.5,246.90 160.5,249.98 160.5,253.05 160.5,256.12 160.5,259.20 160.5,262.27 160.5,265.35 160.5,268.43 166.9,271.50 160.5,274.58 160.5,277.65 160.5,280.73 160.5,283.80 160.5,286.88 160.5,289.95 160.5,293.03 160.5,296.10 160.5,299.18 160.5,302.25 160.5,305.32 160.5,308.40 160.5,311.48 163.7,314.55 160.5,317.62 166.9,320.70 160.5,323.78 160.5,326.85 160.5,329.93 170.0,333.00 160.5,336.08 163.7,339.15 160.5,342.23 160.5,345.30 160.5,348.38 170.0,351.45 160.5,354.53 160.5,357.60 160.5,360.68 160.5,363.75 160.5,366.83 185.9,369.90 160.5,372.98 211.9,376.05 160.5,379.12 163.7,382.20 160.5,385.28 166.9,388.35 160.5,391.43 189.1,394.50 160.5,397.58 163.7,400.65 160.5,403.73 160.5,406.80 160.5,409.88 163.7,412.95 160.5,416.03 195.5,419.10 160.5,422.18 182.8,425.25 160.5,428.33 160.5,431.40 160.5,434.48 160.5,437.55 160.5,440.62 160.5,443.70 160.5,446.78 163.7,449.85 160.5,452.93 198.7,456.00 160.5,459.08 160.5,462.15 160.5,465.23 160.5,468.30 160.5,471.38 207.7,474.45 160.5,477.53 163.7,480.60 160.5,483.68 166.9,486.75 160.5,489.83 169.5,492.90 160.5,495.98 163.7,499.05 160.5,502.12 160.5,505.20 160.5,508.28 160.5,511.35 160.5,514.42 160.5,517.50 160.5,520.58 160.5,523.65 160.5,526.73 160.5,529.80 160.5,532.88 160.5,535.95 160.5,539.02 160.5,542.10" fill="none" stroke="#ffc000" stroke-width="1.05" stroke-linejoin="miter" stroke-miterlimit="6"/>
<polyline points="160.5,24.50 160.5,25.50 160.5,28.57 160.5,31.65 160.5,34.73 165.8,37.80 160.5,40.88 160.5,43.95 160.5,47.03 160.5,50.10 160.5,53.17 160.5,56.25 160.5,59.33 160.5,62.40 160.5,65.47 160.5,68.55 160.5,71.62 165.8,74.70 160.5,77.78 165.8,80.85 160.5,83.93 221.4,87.00 160.5,90.08 165.8,93.15 160.5,96.23 160.5,99.30 160.5,102.38 160.5,105.45 160.5,108.53 160.5,111.60 160.5,114.68 160.5,117.75 160.5,120.83 160.5,123.90 160.5,126.98 160.5,130.05 160.5,133.12 165.8,136.20 160.5,139.28 160.5,142.35 160.5,145.43 160.5,148.50 160.5,151.57 160.5,154.65 160.5,157.72 160.5,160.80 160.5,163.88 160.5,166.95 160.5,170.03 175.9,173.10 160.5,176.18 185.9,179.25 160.5,182.33 160.5,185.40 160.5,188.48 160.5,191.55 160.5,194.62 160.5,197.70 160.5,200.78 160.5,203.85 160.5,206.93 160.5,210.00 160.5,213.08 160.5,216.15 160.5,219.23 160.5,222.30 160.5,225.38 160.5,228.45 160.5,231.53 160.5,234.60 160.5,237.68 160.5,240.75 160.5,243.83 185.9,246.90 160.5,249.98 165.8,253.05 160.5,256.12 160.5,259.20 160.5,262.27 160.5,265.35 160.5,268.43 180.6,271.50 160.5,274.58 160.5,277.65 160.5,280.73 160.5,283.80 160.5,286.88 165.8,289.95 160.5,293.03 160.5,296.10 160.5,299.18 160.5,302.25 160.5,305.32 160.5,308.40 160.5,311.48 160.5,314.55 160.5,317.62 171.1,320.70 160.5,323.78 160.5,326.85 160.5,329.93 160.5,333.00 160.5,336.08 191.2,339.15 160.5,342.23 160.5,345.30 160.5,348.38 160.5,351.45 160.5,354.53 160.5,357.60 160.5,360.68 160.5,363.75 160.5,366.83 205.5,369.90 160.5,372.98 206.1,376.05 160.5,379.12 160.5,382.20 160.5,385.28 165.8,388.35 160.5,391.43 185.9,394.50 160.5,397.58 160.5,400.65 160.5,403.73 160.5,406.80 160.5,409.88 160.5,412.95 160.5,416.03 206.1,419.10 160.5,422.18 185.9,425.25 160.5,428.33 160.5,431.40 160.5,434.48 160.5,437.55 160.5,440.62 165.8,443.70 160.5,446.78 175.9,449.85 160.5,452.93 171.1,456.00 160.5,459.08 160.5,462.15 160.5,465.23 165.8,468.30 160.5,471.38 201.8,474.45 160.5,477.53 160.5,480.60 160.5,483.68 160.5,486.75 160.5,489.83 190.7,492.90 160.5,495.98 160.5,499.05 160.5,502.12 160.5,505.20 160.5,508.28 160.5,511.35 160.5,514.42 160.5,517.50 160.5,520.58 160.5,523.65 160.5,526.73 160.5,529.80 160.5,532.88 160.5,535.95 160.5,539.02 160.5,542.10" fill="none" stroke="#12b457" stroke-width="1.05" stroke-linejoin="miter" stroke-miterlimit="6"/>
<polyline points="160.5,24.50 160.5,25.50 160.5,28.57 160.5,31.65 160.5,34.73 160.5,37.80 160.5,40.88 160.5,43.95 160.5,47.03 166.9,50.10 160.5,53.17 160.5,56.25 160.5,59.33 160.5,62.40 160.5,65.47 160.5,68.55 160.5,71.62 160.5,74.70 160.5,77.78 190.2,80.85 160.5,83.93 183.3,87.00 160.5,90.08 160.5,93.15 160.5,96.23 171.6,99.30 160.5,102.38 160.5,105.45 160.5,108.53 166.3,111.60 160.5,114.68 160.5,117.75 160.5,120.83 171.6,123.90 160.5,126.98 160.5,130.05 160.5,133.12 160.5,136.20 160.5,139.28 171.6,142.35 160.5,145.43 160.5,148.50 160.5,151.57 160.5,154.65 160.5,157.72 166.3,160.80 160.5,163.88 205.5,166.95 160.5,170.03 176.9,173.10 160.5,176.18 172.2,179.25 160.5,182.33 160.5,185.40 160.5,188.48 160.5,191.55 160.5,194.62 160.5,197.70 160.5,200.78 160.5,203.85 160.5,206.93 171.6,210.00 160.5,213.08 160.5,216.15 160.5,219.23 160.5,222.30 160.5,225.38 160.5,228.45 160.5,231.53 165.8,234.60 160.5,237.68 160.5,240.75 160.5,243.83 160.5,246.90 160.5,249.98 160.5,253.05 160.5,256.12 160.5,259.20 160.5,262.27 183.3,265.35 160.5,268.43 171.6,271.50 160.5,274.58 160.5,277.65 160.5,280.73 165.8,283.80 160.5,286.88 160.5,289.95 160.5,293.03 160.5,296.10 160.5,299.18 160.5,302.25 160.5,305.32 160.5,308.40 160.5,311.48 160.5,314.55 160.5,317.62 160.5,320.70 160.5,323.78 160.5,326.85 160.5,329.93 160.5,333.00 160.5,336.08 165.8,339.15 160.5,342.23 160.5,345.30 160.5,348.38 165.8,351.45 160.5,354.53 160.5,357.60 160.5,360.68 160.5,363.75 160.5,366.83 206.1,369.90 160.5,372.98 234.2,376.05 160.5,379.12 160.5,382.20 160.5,385.28 177.5,388.35 160.5,391.43 177.5,394.50 160.5,397.58 160.5,400.65 160.5,403.73 160.5,406.80 160.5,409.88 160.5,412.95 160.5,416.03 200.2,419.10 160.5,422.18 200.2,425.25 160.5,428.33 160.5,431.40 160.5,434.48 160.5,437.55 160.5,440.62 160.5,443.70 160.5,446.78 170.6,449.85 160.5,452.93 177.5,456.00 160.5,459.08 171.6,462.15 160.5,465.23 160.5,468.30 160.5,471.38 183.8,474.45 160.5,477.53 165.8,480.60 160.5,483.68 171.6,486.75 160.5,489.83 165.8,492.90 160.5,495.98 160.5,499.05 160.5,502.12 160.5,505.20 160.5,508.28 160.5,511.35 160.5,514.42 160.5,517.50 160.5,520.58 160.5,523.65 160.5,526.73 160.5,529.80 160.5,532.88 160.5,535.95 160.5,539.02 160.5,542.10" fill="none" stroke="#7a35c8" stroke-width="1.05" stroke-linejoin="miter" stroke-miterlimit="6"/>
</g>
<line x1="160.50" y1="24.10" x2="160.50" y2="543.70" stroke="#4a4a4a" stroke-width="0.9"/>
<line x1="195.60" y1="39.20" x2="205.40" y2="39.20" stroke="#ffc000" stroke-width="0.9"/>
<text x="208.50" y="41.20" font-size="5.7" text-anchor="start" transform="rotate(0.4 208.50 41.20)" textLength="19.2" lengthAdjust="spacingAndGlyphs">Control</text>
<line x1="195.60" y1="52.60" x2="205.40" y2="52.60" stroke="#12b457" stroke-width="0.9"/>
<text x="208.50" y="54.60" font-size="5.7" text-anchor="start" transform="rotate(0.4 208.50 54.60)" textLength="11.9" lengthAdjust="spacingAndGlyphs">HLTF</text>
<line x1="195.60" y1="66.20" x2="205.40" y2="66.20" stroke="#7a35c8" stroke-width="0.9"/>
<text x="208.50" y="68.20" font-size="5.7" text-anchor="start" transform="rotate(0.4 208.50 68.20)" textLength="30.0" lengthAdjust="spacingAndGlyphs">HLTF F960A</text>
</g>
<g id="panelC">
<text x="243.60" y="5.00" font-size="6.5" text-anchor="start" style="fill:#111;stroke:#111;" transform="rotate(0.4 243.60 5.00)">C</text>
<text x="251.80" y="11.10" font-size="6.0" text-anchor="start" style="fill:#111;stroke:#111;" transform="rotate(0.4 251.80 11.10)" textLength="88.4" lengthAdjust="spacingAndGlyphs">% Mutations at certain position</text>
<text x="260.80" y="21.00" font-size="6.2" text-anchor="middle" style="fill:#111;stroke:#111;" transform="rotate(0.4 260.80 21.00)" textLength="3.1" lengthAdjust="spacingAndGlyphs">0</text>
<line x1="286.50" y1="24.50" x2="286.50" y2="26.30" stroke="#333" stroke-width="0.7"/>
<text x="286.50" y="21.00" font-size="6.2" text-anchor="middle" style="fill:#111;stroke:#111;" transform="rotate(0.4 286.50 21.00)" textLength="3.1" lengthAdjust="spacingAndGlyphs">5</text>
<line x1="312.20" y1="24.50" x2="312.20" y2="26.30" stroke="#333" stroke-width="0.7"/>
<text x="312.20" y="21.00" font-size="6.2" text-anchor="middle" style="fill:#111;stroke:#111;" transform="rotate(0.4 312.20 21.00)" textLength="6.0" lengthAdjust="spacingAndGlyphs">10</text>
<line x1="337.90" y1="24.50" x2="337.90" y2="26.30" stroke="#333" stroke-width="0.7"/>
<text x="337.90" y="21.00" font-size="6.2" text-anchor="middle" style="fill:#111;stroke:#111;" transform="rotate(0.4 337.90 21.00)" textLength="6.0" lengthAdjust="spacingAndGlyphs">15</text>
<line x1="363.60" y1="24.50" x2="363.60" y2="26.30" stroke="#333" stroke-width="0.7"/>
<text x="363.60" y="21.00" font-size="6.2" text-anchor="middle" style="fill:#111;stroke:#111;" transform="rotate(0.4 363.60 21.00)" textLength="6.0" lengthAdjust="spacingAndGlyphs">20</text>
<line x1="260.80" y1="24.50" x2="363.95" y2="24.50" stroke="#333" stroke-width="0.8"/>
<g font-size="6" class="rl">
<text transform="rotate(0.4 255.8 28.10)"><tspan x="253.4" y="28.10" text-anchor="end" textLength="6.7" lengthAdjust="spacingAndGlyphs">99</tspan><tspan x="257.5" y="28.10" text-anchor="middle">G</tspan></text>
<text transform="rotate(0.4 255.8 34.25)"><tspan x="253.4" y="34.25" text-anchor="end" textLength="10.0" lengthAdjust="spacingAndGlyphs">100</tspan><tspan x="257.5" y="34.25" text-anchor="middle">G</tspan></text>
<text transform="rotate(0.4 255.8 40.40)"><tspan x="253.4" y="40.40" text-anchor="end" textLength="10.0" lengthAdjust="spacingAndGlyphs">101</tspan><tspan x="257.5" y="40.40" text-anchor="middle">T</tspan></text>
<text transform="rotate(0.4 255.8 46.55)"><tspan x="253.4" y="46.55" text-anchor="end" textLength="10.0" lengthAdjust="spacingAndGlyphs">102</tspan><tspan x="257.5" y="46.55" text-anchor="middle">G</tspan></text>
<text transform="rotate(0.4 255.8 52.70)"><tspan x="253.4" y="52.70" text-anchor="end" textLength="10.0" lengthAdjust="spacingAndGlyphs">103</tspan><tspan x="257.5" y="52.70" text-anchor="middle">G</tspan></text>
<text transform="rotate(0.4 255.8 58.85)"><tspan x="253.4" y="58.85" text-anchor="end" textLength="10.0" lengthAdjust="spacingAndGlyphs">104</tspan><tspan x="257.5" y="58.85" text-anchor="middle">G</tspan></text>
<text transform="rotate(0.4 255.8 65.00)"><tspan x="253.4" y="65.00" text-anchor="end" textLength="10.0" lengthAdjust="spacingAndGlyphs">105</tspan><tspan x="257.5" y="65.00" text-anchor="middle">G</tspan></text>
<text transform="rotate(0.4 255.8 71.15)"><tspan x="253.4" y="71.15" text-anchor="end" textLength="10.0" lengthAdjust="spacingAndGlyphs">106</tspan><tspan x="257.5" y="71.15" text-anchor="middle">T</tspan></text>
<text transform="rotate(0.4 255.8 77.30)"><tspan x="253.4" y="77.30" text-anchor="end" textLength="10.0" lengthAdjust="spacingAndGlyphs">107</tspan><tspan x="257.5" y="77.30" text-anchor="middle">T</tspan></text>
<text transform="rotate(0.4 255.8 83.45)"><tspan x="253.4" y="83.45" text-anchor="end" textLength="10.0" lengthAdjust="spacingAndGlyphs">108</tspan><tspan x="257.5" y="83.45" text-anchor="middle">C</tspan></text>
<text transform="rotate(0.4 255.8 89.60)"><tspan x="253.4" y="89.60" text-anchor="end" textLength="10.0" lengthAdjust="spacingAndGlyphs">109</tspan><tspan x="257.5" y="89.60" text-anchor="middle">C</tspan></text>
<text transform="rotate(0.4 255.8 95.75)"><tspan x="253.4" y="95.75" text-anchor="end" textLength="10.0" lengthAdjust="spacingAndGlyphs">110</tspan><tspan x="257.5" y="95.75" text-anchor="middle">C</tspan></text>
<text transform="rotate(0.4 255.8 101.90)"><tspan x="253.4" y="101.90" text-anchor="end" textLength="10.0" lengthAdjust="spacingAndGlyphs">111</tspan><tspan x="257.5" y="101.90" text-anchor="middle">G</tspan></text>
<text transform="rotate(0.4 255.8 108.05)"><tspan x="253.4" y="108.05" text-anchor="end" textLength="10.0" lengthAdjust="spacingAndGlyphs">112</tspan><tspan x="257.5" y="108.05" text-anchor="middle">A</tspan></text>
<text transform="rotate(0.4 255.8 114.20)"><tspan x="253.4" y="114.20" text-anchor="end" textLength="10.0" lengthAdjust="spacingAndGlyphs">113</tspan><tspan x="257.5" y="114.20" text-anchor="middle">G</tspan></text>
<text transform="rotate(0.4 255.8 120.35)"><tspan x="253.4" y="120.35" text-anchor="end" textLength="10.0" lengthAdjust="spacingAndGlyphs">114</tspan><tspan x="257.5" y="120.35" text-anchor="middle">C</tspan></text>
<text transform="rotate(0.4 255.8 126.50)"><tspan x="253.4" y="126.50" text-anchor="end" textLength="10.0" lengthAdjust="spacingAndGlyphs">115</tspan><tspan x="257.5" y="126.50" text-anchor="middle">G</tspan></text>
<text transform="rotate(0.4 255.8 132.65)"><tspan x="253.4" y="132.65" text-anchor="end" textLength="10.0" lengthAdjust="spacingAndGlyphs">116</tspan><tspan x="257.5" y="132.65" text-anchor="middle">G</tspan></text>
<text transform="rotate(0.4 255.8 138.80)"><tspan x="253.4" y="138.80" text-anchor="end" textLength="10.0" lengthAdjust="spacingAndGlyphs">117</tspan><tspan x="257.5" y="138.80" text-anchor="middle">C</tspan></text>
<text transform="rotate(0.4 255.8 144.95)"><tspan x="253.4" y="144.95" text-anchor="end" textLength="10.0" lengthAdjust="spacingAndGlyphs">118</tspan><tspan x="257.5" y="144.95" text-anchor="middle">C</tspan></text>
<text transform="rotate(0.4 255.8 151.10)"><tspan x="253.4" y="151.10" text-anchor="end" textLength="10.0" lengthAdjust="spacingAndGlyphs">119</tspan><tspan x="257.5" y="151.10" text-anchor="middle">A</tspan></text>
<text transform="rotate(0.4 255.8 157.25)"><tspan x="253.4" y="157.25" text-anchor="end" textLength="10.0" lengthAdjust="spacingAndGlyphs">120</tspan><tspan x="257.5" y="157.25" text-anchor="middle">A</tspan></text>
<text transform="rotate(0.4 255.8 163.40)"><tspan x="253.4" y="163.40" text-anchor="end" textLength="10.0" lengthAdjust="spacingAndGlyphs">121</tspan><tspan x="257.5" y="163.40" text-anchor="middle">A</tspan></text>
<text transform="rotate(0.4 255.8 169.55)"><tspan x="253.4" y="169.55" text-anchor="end" textLength="10.0" lengthAdjust="spacingAndGlyphs">122</tspan><tspan x="257.5" y="169.55" text-anchor="middle">G</tspan></text>
<text transform="rotate(0.4 255.8 175.70)"><tspan x="253.4" y="175.70" text-anchor="end" textLength="10.0" lengthAdjust="spacingAndGlyphs">123</tspan><tspan x="257.5" y="175.70" text-anchor="middle">G</tspan></text>
<text transform="rotate(0.4 255.8 181.85)"><tspan x="253.4" y="181.85" text-anchor="end" textLength="10.0" lengthAdjust="spacingAndGlyphs">124</tspan><tspan x="257.5" y="181.85" text-anchor="middle">G</tspan></text>
<text transform="rotate(0.4 255.8 188.00)"><tspan x="253.4" y="188.00" text-anchor="end" textLength="10.0" lengthAdjust="spacingAndGlyphs">125</tspan><tspan x="257.5" y="188.00" text-anchor="middle">A</tspan></text>
<text transform="rotate(0.4 255.8 194.15)"><tspan x="253.4" y="194.15" text-anchor="end" textLength="10.0" lengthAdjust="spacingAndGlyphs">126</tspan><tspan x="257.5" y="194.15" text-anchor="middle">G</tspan></text>
<text transform="rotate(0.4 255.8 200.30)"><tspan x="253.4" y="200.30" text-anchor="end" textLength="10.0" lengthAdjust="spacingAndGlyphs">127</tspan><tspan x="257.5" y="200.30" text-anchor="middle">C</tspan></text>
<text transform="rotate(0.4 255.8 206.45)"><tspan x="253.4" y="206.45" text-anchor="end" textLength="10.0" lengthAdjust="spacingAndGlyphs">128</tspan><tspan x="257.5" y="206.45" text-anchor="middle">A</tspan></text>
<text transform="rotate(0.4 255.8 212.60)"><tspan x="253.4" y="212.60" text-anchor="end" textLength="10.0" lengthAdjust="spacingAndGlyphs">129</tspan><tspan x="257.5" y="212.60" text-anchor="middle">G</tspan></text>
<text transform="rotate(0.4 255.8 218.75)"><tspan x="253.4" y="218.75" text-anchor="end" textLength="10.0" lengthAdjust="spacingAndGlyphs">130</tspan><tspan x="257.5" y="218.75" text-anchor="middle">A</tspan></text>
<text transform="rotate(0.4 255.8 224.90)"><tspan x="253.4" y="224.90" text-anchor="end" textLength="10.0" lengthAdjust="spacingAndGlyphs">131</tspan><tspan x="257.5" y="224.90" text-anchor="middle">C</tspan></text>
<text transform="rotate(0.4 255.8 231.05)"><tspan x="253.4" y="231.05" text-anchor="end" textLength="10.0" lengthAdjust="spacingAndGlyphs">132</tspan><tspan x="257.5" y="231.05" text-anchor="middle">T</tspan></text>
<text transform="rotate(0.4 255.8 237.20)"><tspan x="253.4" y="237.20" text-anchor="end" textLength="10.0" lengthAdjust="spacingAndGlyphs">133</tspan><tspan x="257.5" y="237.20" text-anchor="middle">C</tspan></text>
<text transform="rotate(0.4 255.8 243.35)"><tspan x="253.4" y="243.35" text-anchor="end" textLength="10.0" lengthAdjust="spacingAndGlyphs">134</tspan><tspan x="257.5" y="243.35" text-anchor="middle">T</tspan></text>
<text transform="rotate(0.4 255.8 249.50)"><tspan x="253.4" y="249.50" text-anchor="end" textLength="10.0" lengthAdjust="spacingAndGlyphs">135</tspan><tspan x="257.5" y="249.50" text-anchor="middle">A</tspan></text>
<text transform="rotate(0.4 255.8 255.65)"><tspan x="253.4" y="255.65" text-anchor="end" textLength="10.0" lengthAdjust="spacingAndGlyphs">136</tspan><tspan x="257.5" y="255.65" text-anchor="middle">A</tspan></text>
<text transform="rotate(0.4 255.8 261.80)"><tspan x="253.4" y="261.80" text-anchor="end" textLength="10.0" lengthAdjust="spacingAndGlyphs">137</tspan><tspan x="257.5" y="261.80" text-anchor="middle">A</tspan></text>
<text transform="rotate(0.4 255.8 267.95)"><tspan x="253.4" y="267.95" text-anchor="end" textLength="10.0" lengthAdjust="spacingAndGlyphs">138</tspan><tspan x="257.5" y="267.95" text-anchor="middle">T</tspan></text>
<text transform="rotate(0.4 255.8 274.10)"><tspan x="253.4" y="274.10" text-anchor="end" textLength="10.0" lengthAdjust="spacingAndGlyphs">139</tspan><tspan x="257.5" y="274.10" text-anchor="middle">C</tspan></text>
<text transform="rotate(0.4 255.8 280.25)"><tspan x="253.4" y="280.25" text-anchor="end" textLength="10.0" lengthAdjust="spacingAndGlyphs">140</tspan><tspan x="257.5" y="280.25" text-anchor="middle">T</tspan></text>
<text transform="rotate(0.4 255.8 286.40)"><tspan x="253.4" y="286.40" text-anchor="end" textLength="10.0" lengthAdjust="spacingAndGlyphs">141</tspan><tspan x="257.5" y="286.40" text-anchor="middle">G</tspan></text>
<text transform="rotate(0.4 255.8 292.55)"><tspan x="253.4" y="292.55" text-anchor="end" textLength="10.0" lengthAdjust="spacingAndGlyphs">142</tspan><tspan x="257.5" y="292.55" text-anchor="middle">C</tspan></text>
<text transform="rotate(0.4 255.8 298.70)"><tspan x="253.4" y="298.70" text-anchor="end" textLength="10.0" lengthAdjust="spacingAndGlyphs">143</tspan><tspan x="257.5" y="298.70" text-anchor="middle">C</tspan></text>
<text transform="rotate(0.4 255.8 304.85)"><tspan x="253.4" y="304.85" text-anchor="end" textLength="10.0" lengthAdjust="spacingAndGlyphs">144</tspan><tspan x="257.5" y="304.85" text-anchor="middle">G</tspan></text>
<text transform="rotate(0.4 255.8 311.00)"><tspan x="253.4" y="311.00" text-anchor="end" textLength="10.0" lengthAdjust="spacingAndGlyphs">145</tspan><tspan x="257.5" y="311.00" text-anchor="middle">T</tspan></text>
<text transform="rotate(0.4 255.8 317.15)"><tspan x="253.4" y="317.15" text-anchor="end" textLength="10.0" lengthAdjust="spacingAndGlyphs">146</tspan><tspan x="257.5" y="317.15" text-anchor="middle">C</tspan></text>
<text transform="rotate(0.4 255.8 323.30)"><tspan x="253.4" y="323.30" text-anchor="end" textLength="10.0" lengthAdjust="spacingAndGlyphs">147</tspan><tspan x="257.5" y="323.30" text-anchor="middle">A</tspan></text>
<text transform="rotate(0.4 255.8 329.45)"><tspan x="253.4" y="329.45" text-anchor="end" textLength="10.0" lengthAdjust="spacingAndGlyphs">148</tspan><tspan x="257.5" y="329.45" text-anchor="middle">T</tspan></text>
<text transform="rotate(0.4 255.8 335.60)"><tspan x="253.4" y="335.60" text-anchor="end" textLength="10.0" lengthAdjust="spacingAndGlyphs">149</tspan><tspan x="257.5" y="335.60" text-anchor="middle">C</tspan></text>
<text transform="rotate(0.4 255.8 341.75)"><tspan x="253.4" y="341.75" text-anchor="end" textLength="10.0" lengthAdjust="spacingAndGlyphs">150</tspan><tspan x="257.5" y="341.75" text-anchor="middle">G</tspan></text>
<text transform="rotate(0.4 255.8 347.90)"><tspan x="253.4" y="347.90" text-anchor="end" textLength="10.0" lengthAdjust="spacingAndGlyphs">151</tspan><tspan x="257.5" y="347.90" text-anchor="middle">A</tspan></text>
<text transform="rotate(0.4 255.8 354.05)"><tspan x="253.4" y="354.05" text-anchor="end" textLength="10.0" lengthAdjust="spacingAndGlyphs">152</tspan><tspan x="257.5" y="354.05" text-anchor="middle">C</tspan></text>
<text transform="rotate(0.4 255.8 360.20)"><tspan x="253.4" y="360.20" text-anchor="end" textLength="10.0" lengthAdjust="spacingAndGlyphs">153</tspan><tspan x="257.5" y="360.20" text-anchor="middle">T</tspan></text>
<text transform="rotate(0.4 255.8 366.35)"><tspan x="253.4" y="366.35" text-anchor="end" textLength="10.0" lengthAdjust="spacingAndGlyphs">154</tspan><tspan x="257.5" y="366.35" text-anchor="middle">T</tspan></text>
<text transform="rotate(0.4 255.8 372.50)"><tspan x="253.4" y="372.50" text-anchor="end" textLength="10.0" lengthAdjust="spacingAndGlyphs">155</tspan><tspan x="257.5" y="372.50" text-anchor="middle">C</tspan></text>
<text transform="rotate(0.4 255.8 378.65)"><tspan x="253.4" y="378.65" text-anchor="end" textLength="10.0" lengthAdjust="spacingAndGlyphs">156</tspan><tspan x="257.5" y="378.65" text-anchor="middle">G</tspan></text>
<text transform="rotate(0.4 255.8 384.80)"><tspan x="253.4" y="384.80" text-anchor="end" textLength="10.0" lengthAdjust="spacingAndGlyphs">157</tspan><tspan x="257.5" y="384.80" text-anchor="middle">A</tspan></text>
<text transform="rotate(0.4 255.8 390.95)"><tspan x="253.4" y="390.95" text-anchor="end" textLength="10.0" lengthAdjust="spacingAndGlyphs">158</tspan><tspan x="257.5" y="390.95" text-anchor="middle">A</tspan></text>
<text transform="rotate(0.4 255.8 397.10)"><tspan x="253.4" y="397.10" text-anchor="end" textLength="10.0" lengthAdjust="spacingAndGlyphs">159</tspan><tspan x="257.5" y="397.10" text-anchor="middle">G</tspan></text>
<text transform="rotate(0.4 255.8 403.25)"><tspan x="253.4" y="403.25" text-anchor="end" textLength="10.0" lengthAdjust="spacingAndGlyphs">160</tspan><tspan x="257.5" y="403.25" text-anchor="middle">G</tspan></text>
<text transform="rotate(0.4 255.8 409.40)"><tspan x="253.4" y="409.40" text-anchor="end" textLength="10.0" lengthAdjust="spacingAndGlyphs">161</tspan><tspan x="257.5" y="409.40" text-anchor="middle">T</tspan></text>
<text transform="rotate(0.4 255.8 415.55)"><tspan x="253.4" y="415.55" text-anchor="end" textLength="10.0" lengthAdjust="spacingAndGlyphs">162</tspan><tspan x="257.5" y="415.55" text-anchor="middle">T</tspan></text>
<text transform="rotate(0.4 255.8 421.70)"><tspan x="253.4" y="421.70" text-anchor="end" textLength="10.0" lengthAdjust="spacingAndGlyphs">163</tspan><tspan x="257.5" y="421.70" text-anchor="middle">C</tspan></text>
<text transform="rotate(0.4 255.8 427.85)"><tspan x="253.4" y="427.85" text-anchor="end" textLength="10.0" lengthAdjust="spacingAndGlyphs">164</tspan><tspan x="257.5" y="427.85" text-anchor="middle">G</tspan></text>
<text transform="rotate(0.4 255.8 434.00)"><tspan x="253.4" y="434.00" text-anchor="end" textLength="10.0" lengthAdjust="spacingAndGlyphs">165</tspan><tspan x="257.5" y="434.00" text-anchor="middle">A</tspan></text>
<text transform="rotate(0.4 255.8 440.15)"><tspan x="253.4" y="440.15" text-anchor="end" textLength="10.0" lengthAdjust="spacingAndGlyphs">166</tspan><tspan x="257.5" y="440.15" text-anchor="middle">A</tspan></text>
<text transform="rotate(0.4 255.8 446.30)"><tspan x="253.4" y="446.30" text-anchor="end" textLength="10.0" lengthAdjust="spacingAndGlyphs">167</tspan><tspan x="257.5" y="446.30" text-anchor="middle">T</tspan></text>
<text transform="rotate(0.4 255.8 452.45)"><tspan x="253.4" y="452.45" text-anchor="end" textLength="10.0" lengthAdjust="spacingAndGlyphs">168</tspan><tspan x="257.5" y="452.45" text-anchor="middle">C</tspan></text>
<text transform="rotate(0.4 255.8 458.60)"><tspan x="253.4" y="458.60" text-anchor="end" textLength="10.0" lengthAdjust="spacingAndGlyphs">169</tspan><tspan x="257.5" y="458.60" text-anchor="middle">C</tspan></text>
<text transform="rotate(0.4 255.8 464.75)"><tspan x="253.4" y="464.75" text-anchor="end" textLength="10.0" lengthAdjust="spacingAndGlyphs">170</tspan><tspan x="257.5" y="464.75" text-anchor="middle">T</tspan></text>
<text transform="rotate(0.4 255.8 470.90)"><tspan x="253.4" y="470.90" text-anchor="end" textLength="10.0" lengthAdjust="spacingAndGlyphs">171</tspan><tspan x="257.5" y="470.90" text-anchor="middle">T</tspan></text>
<text transform="rotate(0.4 255.8 477.05)"><tspan x="253.4" y="477.05" text-anchor="end" textLength="10.0" lengthAdjust="spacingAndGlyphs">172</tspan><tspan x="257.5" y="477.05" text-anchor="middle">C</tspan></text>
<text transform="rotate(0.4 255.8 483.20)"><tspan x="253.4" y="483.20" text-anchor="end" textLength="10.0" lengthAdjust="spacingAndGlyphs">173</tspan><tspan x="257.5" y="483.20" text-anchor="middle">C</tspan></text>
<text transform="rotate(0.4 255.8 489.35)"><tspan x="253.4" y="489.35" text-anchor="end" textLength="10.0" lengthAdjust="spacingAndGlyphs">174</tspan><tspan x="257.5" y="489.35" text-anchor="middle">C</tspan></text>
<text transform="rotate(0.4 255.8 495.50)"><tspan x="253.4" y="495.50" text-anchor="end" textLength="10.0" lengthAdjust="spacingAndGlyphs">175</tspan><tspan x="257.5" y="495.50" text-anchor="middle">C</tspan></text>
<text transform="rotate(0.4 255.8 501.65)"><tspan x="253.4" y="501.65" text-anchor="end" textLength="10.0" lengthAdjust="spacingAndGlyphs">176</tspan><tspan x="257.5" y="501.65" text-anchor="middle">C</tspan></text>
<text transform="rotate(0.4 255.8 507.80)"><tspan x="253.4" y="507.80" text-anchor="end" textLength="10.0" lengthAdjust="spacingAndGlyphs">177</tspan><tspan x="257.5" y="507.80" text-anchor="middle">A</tspan></text>
<text transform="rotate(0.4 255.8 513.95)"><tspan x="253.4" y="513.95" text-anchor="end" textLength="10.0" lengthAdjust="spacingAndGlyphs">178</tspan><tspan x="257.5" y="513.95" text-anchor="middle">C</tspan></text>
<text transform="rotate(0.4 255.8 520.10)"><tspan x="253.4" y="520.10" text-anchor="end" textLength="10.0" lengthAdjust="spacingAndGlyphs">179</tspan><tspan x="257.5" y="520.10" text-anchor="middle">C</tspan></text>
<text transform="rotate(0.4 255.8 526.25)"><tspan x="253.4" y="526.25" text-anchor="end" textLength="10.0" lengthAdjust="spacingAndGlyphs">180</tspan><tspan x="257.5" y="526.25" text-anchor="middle">A</tspan></text>
<text transform="rotate(0.4 255.8 532.40)"><tspan x="253.4" y="532.40" text-anchor="end" textLength="10.0" lengthAdjust="spacingAndGlyphs">181</tspan><tspan x="257.5" y="532.40" text-anchor="middle">C</tspan></text>
<text transform="rotate(0.4 255.8 538.55)"><tspan x="253.4" y="538.55" text-anchor="end" textLength="10.0" lengthAdjust="spacingAndGlyphs">182</tspan><tspan x="257.5" y="538.55" text-anchor="middle">C</tspan></text>
<text transform="rotate(0.4 255.8 544.70)"><tspan x="253.4" y="544.70" text-anchor="end" textLength="10.0" lengthAdjust="spacingAndGlyphs">183</tspan><tspan x="257.5" y="544.70" text-anchor="middle">A</tspan></text>
</g>
<clipPath id="clipC"><rect x="260.8" y="24.5" width="220" height="530"/></clipPath>
<g clip-path="url(#clipC)">
<polyline points="264.0,24.50 264.3,25.50 260.8,28.57 260.8,31.65 260.8,34.73 265.8,37.80 260.8,40.88 260.8,43.95 260.8,47.03 260.8,50.10 260.8,53.17 266.8,56.25 260.8,59.33 260.8,62.40 260.8,65.47 260.8,68.55 260.8,71.62 260.8,74.70 260.8,77.78 293.5,80.85 260.8,83.93 260.8,87.00 260.8,90.08 260.8,93.15 260.8,96.23 273.9,99.30 260.8,102.38 260.8,105.45 260.8,108.53 260.8,111.60 260.8,114.68 260.8,117.75 260.8,120.83 260.8,123.90 260.8,126.98 260.8,130.05 260.8,133.12 260.8,136.20 260.8,139.28 260.8,142.35 260.8,145.43 263.8,148.50 260.8,151.57 260.8,154.65 260.8,157.72 260.8,160.80 260.8,163.88 287.5,166.95 260.8,170.03 283.5,173.10 260.8,176.18 291.0,179.25 260.8,182.33 260.8,185.40 260.8,188.48 263.8,191.55 260.8,194.62 260.8,197.70 260.8,200.78 260.8,203.85 260.8,206.93 273.9,210.00 260.8,213.08 260.8,216.15 260.8,219.23 260.8,222.30 260.8,225.38 260.8,228.45 260.8,231.53 286.5,234.60 260.8,237.68 260.8,240.75 260.8,243.83 260.8,246.90 260.8,249.98 260.8,253.05 260.8,256.12 260.8,259.20 260.8,262.27 260.8,265.35 260.8,268.43 260.8,271.50 260.8,274.58 260.8,277.65 260.8,280.73 260.8,283.80 260.8,286.88 260.8,289.95 260.8,293.03 260.8,296.10 260.8,299.18 260.8,302.25 260.8,305.32 260.8,308.40 260.8,311.48 263.8,314.55 260.8,317.62 263.8,320.70 260.8,323.78 260.8,326.85 260.8,329.93 270.4,333.00 260.8,336.08 263.8,339.15 260.8,342.23 260.8,345.30 260.8,348.38 270.9,351.45 260.8,354.53 260.8,357.60 260.8,360.68 260.8,363.75 260.8,366.83 286.0,369.90 260.8,372.98 313.7,376.05 260.8,379.12 263.8,382.20 260.8,385.28 260.8,388.35 260.8,391.43 293.5,394.50 260.8,397.58 263.8,400.65 260.8,403.73 260.8,406.80 260.8,409.88 263.8,412.95 260.8,416.03 297.6,419.10 260.8,422.18 286.0,425.25 260.8,428.33 260.8,431.40 260.8,434.48 260.8,437.55 260.8,440.62 260.8,443.70 260.8,446.78 263.8,449.85 260.8,452.93 300.6,456.00 260.8,459.08 260.8,462.15 260.8,465.23 260.8,468.30 260.8,471.38 308.7,474.45 260.8,477.53 263.8,480.60 260.8,483.68 266.8,486.75 260.8,489.83 269.9,492.90 260.8,495.98 263.8,499.05 260.8,502.12 260.8,505.20 260.8,508.28 260.8,511.35 260.8,514.42 260.8,517.50 260.8,520.58 260.8,523.65 260.8,526.73 260.8,529.80 260.8,532.88 260.8,535.95 260.8,539.02 260.8,542.10" fill="none" stroke="#ffc000" stroke-width="1.05" stroke-linejoin="miter" stroke-miterlimit="6"/>
<polyline points="260.8,24.50 260.8,25.50 260.8,28.57 260.8,31.65 260.8,34.73 260.8,37.80 260.8,40.88 271.4,43.95 260.8,47.03 265.8,50.10 260.8,53.17 260.8,56.25 260.8,59.33 260.8,62.40 260.8,65.47 260.8,68.55 260.8,71.62 260.8,74.70 260.8,77.78 277.9,80.85 260.8,83.93 265.8,87.00 260.8,90.08 260.8,93.15 260.8,96.23 260.8,99.30 260.8,102.38 260.8,105.45 260.8,108.53 260.8,111.60 260.8,114.68 260.8,117.75 260.8,120.83 267.9,123.90 260.8,126.98 260.8,130.05 260.8,133.12 260.8,136.20 260.8,139.28 260.8,142.35 260.8,145.43 260.8,148.50 260.8,151.57 260.8,154.65 260.8,157.72 260.8,160.80 260.8,163.88 295.6,166.95 260.8,170.03 267.9,173.10 260.8,176.18 280.9,179.25 260.8,182.33 260.8,185.40 260.8,188.48 260.8,191.55 260.8,194.62 260.8,197.70 260.8,200.78 267.9,203.85 260.8,206.93 265.8,210.00 260.8,213.08 260.8,216.15 260.8,219.23 260.8,222.30 260.8,225.38 260.8,228.45 260.8,231.53 260.8,234.60 260.8,237.68 260.8,240.75 260.8,243.83 267.9,246.90 260.8,249.98 260.8,253.05 260.8,256.12 260.8,259.20 260.8,262.27 260.8,265.35 260.8,268.43 267.9,271.50 260.8,274.58 260.8,277.65 260.8,280.73 260.8,283.80 260.8,286.88 260.8,289.95 260.8,293.03 260.8,296.10 260.8,299.18 260.8,302.25 260.8,305.32 260.8,308.40 260.8,311.48 260.8,314.55 260.8,317.62 260.8,320.70 260.8,323.78 260.8,326.85 260.8,329.93 260.8,333.00 260.8,336.08 260.8,339.15 260.8,342.23 260.8,345.30 260.8,348.38 260.8,351.45 260.8,354.53 260.8,357.60 260.8,360.68 265.8,363.75 260.8,366.83 286.0,369.90 260.8,372.98 275.9,376.05 260.8,379.12 260.8,382.20 260.8,385.28 265.3,388.35 260.8,391.43 265.8,394.50 260.8,397.58 260.8,400.65 260.8,403.73 260.8,406.80 260.8,409.88 260.8,412.95 260.8,416.03 285.5,419.10 260.8,422.18 349.0,425.25 260.8,428.33 260.8,431.40 260.8,434.48 260.8,437.55 260.8,440.62 267.9,443.70 260.8,446.78 285.5,449.85 260.8,452.93 280.9,456.00 260.8,459.08 260.8,462.15 260.8,465.23 271.4,468.30 260.8,471.38 371.6,474.45 260.8,477.53 282.0,480.60 260.8,483.68 260.8,486.75 260.8,489.83 299.6,492.90 260.8,495.98 260.8,499.05 260.8,502.12 265.8,505.20 260.8,508.28 260.8,511.35 260.8,514.42 260.8,517.50 260.8,520.58 260.8,523.65 260.8,526.73 260.8,529.80 260.8,532.88 265.8,535.95 260.8,539.02 260.8,542.10" fill="none" stroke="#12b457" stroke-width="1.05" stroke-linejoin="miter" stroke-miterlimit="6"/>
<polyline points="266.2,24.50 266.8,25.50 260.8,28.57 260.8,31.65 260.8,34.73 260.8,37.80 260.8,40.88 265.8,43.95 260.8,47.03 260.8,50.10 260.8,53.17 260.8,56.25 260.8,59.33 260.8,62.40 260.8,65.47 260.8,68.55 260.8,71.62 265.8,74.70 260.8,77.78 272.9,80.85 260.8,83.93 271.4,87.00 260.8,90.08 260.8,93.15 260.8,96.23 266.8,99.30 260.8,102.38 260.8,105.45 260.8,108.53 260.8,111.60 260.8,114.68 260.8,117.75 260.8,120.83 260.8,123.90 260.8,126.98 260.8,130.05 260.8,133.12 260.8,136.20 260.8,139.28 265.8,142.35 260.8,145.43 260.8,148.50 260.8,151.57 260.8,154.65 260.8,157.72 265.8,160.80 260.8,163.88 308.1,166.95 260.8,170.03 260.8,173.10 260.8,176.18 318.7,179.25 260.8,182.33 260.8,185.40 260.8,188.48 260.8,191.55 260.8,194.62 260.8,197.70 260.8,200.78 260.8,203.85 260.8,206.93 271.4,210.00 260.8,213.08 260.8,216.15 260.8,219.23 271.4,222.30 260.8,225.38 260.8,228.45 260.8,231.53 271.4,234.60 260.8,237.68 265.8,240.75 260.8,243.83 260.8,246.90 260.8,249.98 260.8,253.05 260.8,256.12 260.8,259.20 260.8,262.27 260.8,265.35 260.8,268.43 266.8,271.50 260.8,274.58 260.8,277.65 260.8,280.73 271.4,283.80 260.8,286.88 260.8,289.95 260.8,293.03 271.4,296.10 260.8,299.18 260.8,302.25 260.8,305.32 260.8,308.40 260.8,311.48 260.8,314.55 260.8,317.62 260.8,320.70 260.8,323.78 260.8,326.85 260.8,329.93 260.8,333.00 260.8,336.08 260.8,339.15 260.8,342.23 260.8,345.30 260.8,348.38 276.9,351.45 260.8,354.53 275.4,357.60 260.8,360.68 260.8,363.75 260.8,366.83 297.6,369.90 260.8,372.98 296.1,376.05 260.8,379.12 260.8,382.20 260.8,385.28 266.8,388.35 260.8,391.43 287.5,394.50 260.8,397.58 260.8,400.65 260.8,403.73 260.8,406.80 260.8,409.88 260.8,412.95 260.8,416.03 266.8,419.10 260.8,422.18 297.6,425.25 260.8,428.33 260.8,431.40 260.8,434.48 260.8,437.55 260.8,440.62 260.8,443.70 260.8,446.78 266.8,449.85 260.8,452.93 286.5,456.00 260.8,459.08 260.8,462.15 260.8,465.23 260.8,468.30 260.8,471.38 350.0,474.45 260.8,477.53 260.8,480.60 260.8,483.68 271.4,486.75 260.8,489.83 271.4,492.90 260.8,495.98 260.8,499.05 260.8,502.12 260.8,505.20 260.8,508.28 260.8,511.35 260.8,514.42 260.8,517.50 260.8,520.58 260.8,523.65 260.8,526.73 260.8,529.80 260.8,532.88 260.8,535.95 260.8,539.02 260.8,542.10" fill="none" stroke="#7a35c8" stroke-width="1.05" stroke-linejoin="miter" stroke-miterlimit="6"/>
</g>
<line x1="260.80" y1="24.10" x2="260.80" y2="543.70" stroke="#4a4a4a" stroke-width="0.9"/>
<line x1="311.20" y1="39.20" x2="321.00" y2="39.20" stroke="#ffc000" stroke-width="0.9"/>
<text x="324.10" y="41.20" font-size="5.7" text-anchor="start" transform="rotate(0.4 324.10 41.20)" textLength="19.5" lengthAdjust="spacingAndGlyphs">Control</text>
<line x1="311.20" y1="52.60" x2="321.00" y2="52.60" stroke="#12b457" stroke-width="0.9"/>
<text x="324.10" y="54.60" font-size="5.7" text-anchor="start" transform="rotate(0.4 324.10 54.60)" textLength="17.7" lengthAdjust="spacingAndGlyphs">SHPRH</text>
<line x1="311.20" y1="66.20" x2="321.00" y2="66.20" stroke="#7a35c8" stroke-width="0.9"/>
<text x="324.10" y="68.20" font-size="5.7" text-anchor="start" transform="rotate(0.4 324.10 68.20)" textLength="38.4" lengthAdjust="spacingAndGlyphs">SHPRH F1632A</text>
</g>
</svg></body></html>
